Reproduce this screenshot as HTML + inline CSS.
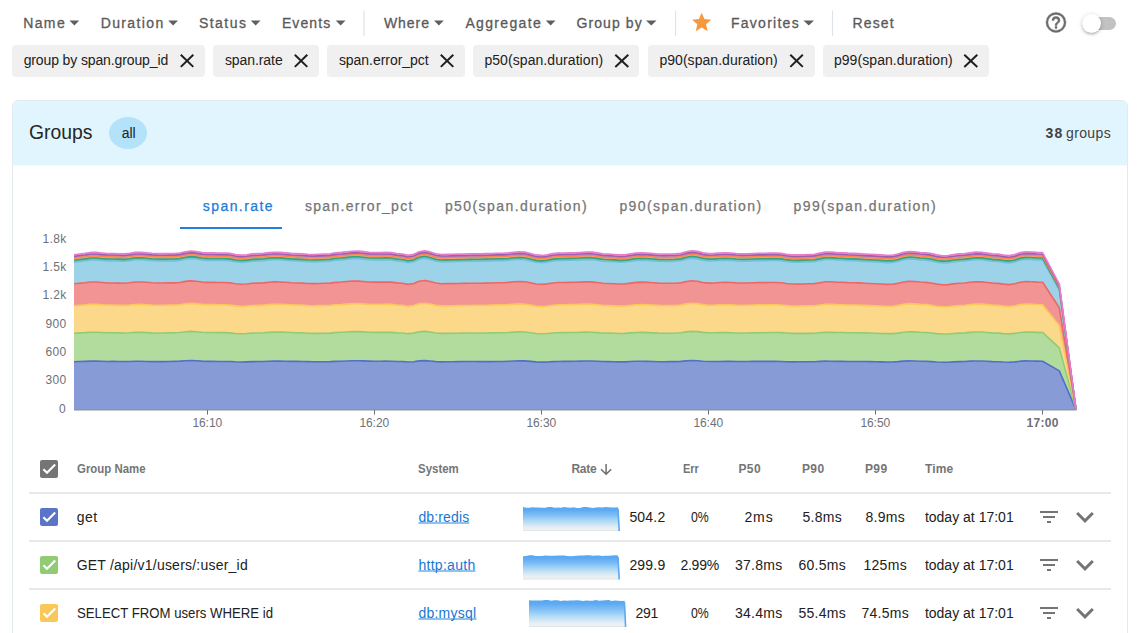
<!DOCTYPE html>
<html lang="en">
<head>
<meta charset="utf-8">
<title>Groups</title>
<style>
html,body{margin:0;padding:0;background:#fff;}
body{width:1140px;height:633px;position:relative;overflow:hidden;font-family:"Liberation Sans", sans-serif;}
span{position:absolute;white-space:pre;font-family:"Liberation Sans", sans-serif;}
.chip{position:absolute;top:44.5px;height:32px;background:#f0f0f0;border-radius:4px;}
.card{position:absolute;left:12px;top:100px;width:1114px;height:560px;border:1px solid #e3eaee;border-radius:6px;background:#fff;overflow:hidden;}
.card .hd{position:absolute;left:0;top:0;right:0;height:64px;background:#e1f5fe;box-shadow:0 1px 0 #f2fbff;}
.pill{position:absolute;left:108.9px;top:117.1px;width:38.3px;height:32px;border-radius:50%/50%;background:#b4e2fa;}
.track{position:absolute;left:1082px;top:17px;width:34px;height:13px;border-radius:7px;background:#c2c2c2;}
.thumb{position:absolute;left:1081.5px;top:14px;width:19px;height:19px;border-radius:50%;background:#fff;
  box-shadow:0 2px 3px -1px rgba(0,0,0,.28),0 1px 4px 0 rgba(0,0,0,.12),0 0 6px 0 rgba(0,0,0,.06);}
.ul{position:absolute;left:180px;top:226.6px;width:102px;height:2.4px;background:#2180da;}
.hl{position:absolute;left:29px;width:1081.5px;height:1px;background:#e3e3e3;}
svg{position:absolute;left:0;top:0;}
</style>
</head>
<body>
<div class="track"></div><div class="thumb"></div>
<div class="chip" style="left:12px;width:193px"></div><div class="chip" style="left:213px;width:106px"></div><div class="chip" style="left:327px;width:138px"></div><div class="chip" style="left:473px;width:166px"></div><div class="chip" style="left:647.5px;width:167.5px"></div><div class="chip" style="left:822.5px;width:166.5px"></div>
<div class="card"><div class="hd"></div></div>
<div class="pill"></div>
<div class="ul"></div>
<div class="hl" style="top:491.8px;height:2px;background:#e9e9e9"></div>
<div class="hl" style="top:540.1px;height:1.6px;background:#e8e8e8"></div>
<div class="hl" style="top:588.1px;height:1.6px;background:#e8e8e8"></div>
<svg width="1140" height="633" viewBox="0 0 1140 633">
<defs><linearGradient id="sg1" x1="0" y1="0" x2="0" y2="1"><stop offset="0" stop-color="#56a7f2"/><stop offset="0.13" stop-color="#5caaf2"/><stop offset="0.35" stop-color="#80bff5"/><stop offset="0.55" stop-color="#a8d6f7"/><stop offset="0.7" stop-color="#c8e3f5"/><stop offset="0.86" stop-color="#e8eef2"/><stop offset="1" stop-color="#f3f3f3"/></linearGradient><linearGradient id="sg2" x1="0" y1="0" x2="0" y2="1"><stop offset="0" stop-color="#56a7f2"/><stop offset="0.13" stop-color="#5caaf2"/><stop offset="0.35" stop-color="#80bff5"/><stop offset="0.55" stop-color="#a8d6f7"/><stop offset="0.7" stop-color="#c8e3f5"/><stop offset="0.86" stop-color="#e8eef2"/><stop offset="1" stop-color="#f3f3f3"/></linearGradient><linearGradient id="sg3" x1="0" y1="0" x2="0" y2="1"><stop offset="0" stop-color="#56a7f2"/><stop offset="0.13" stop-color="#5caaf2"/><stop offset="0.35" stop-color="#80bff5"/><stop offset="0.55" stop-color="#a8d6f7"/><stop offset="0.7" stop-color="#c8e3f5"/><stop offset="0.86" stop-color="#e8eef2"/><stop offset="1" stop-color="#f3f3f3"/></linearGradient></defs>
<path d="M74,409.9 H1076.5" stroke="#6e7079" stroke-width="1" fill="none"/>
<path d="M207.5,410 V414.6" stroke="#6e7079" stroke-width="1" fill="none"/>
<path d="M374.5,410 V414.6" stroke="#6e7079" stroke-width="1" fill="none"/>
<path d="M541.5,410 V414.6" stroke="#6e7079" stroke-width="1" fill="none"/>
<path d="M708.5,410 V414.6" stroke="#6e7079" stroke-width="1" fill="none"/>
<path d="M875.5,410 V414.6" stroke="#6e7079" stroke-width="1" fill="none"/>
<path d="M1042.5,410 V414.6" stroke="#6e7079" stroke-width="1" fill="none"/>
<path d="M74.0,361.82 L79.6,361.55 L85.1,361.39 L90.7,361.11 L96.3,361.12 L101.8,361.30 L107.4,361.43 L113.0,361.42 L118.5,361.49 L124.1,361.57 L129.7,361.44 L135.2,361.22 L140.8,361.26 L146.4,361.43 L151.9,361.59 L157.5,361.64 L163.1,361.58 L168.6,361.45 L174.2,361.35 L179.8,361.14 L185.3,360.73 L190.9,360.55 L196.5,360.78 L202.0,361.17 L207.6,361.36 L213.2,361.41 L218.7,361.45 L224.3,361.43 L229.9,361.50 L235.4,361.80 L241.0,361.96 L246.6,361.84 L252.1,361.61 L257.7,361.57 L263.3,361.49 L268.8,361.28 L274.4,361.13 L280.0,361.13 L285.5,361.21 L291.1,361.33 L296.7,361.40 L302.2,361.47 L307.8,361.66 L313.4,361.77 L318.9,361.77 L324.5,361.73 L330.1,361.66 L335.6,361.34 L341.2,361.20 L346.8,360.98 L352.3,360.78 L357.9,360.75 L363.5,360.91 L369.0,361.12 L374.6,361.21 L380.2,361.21 L385.7,361.16 L391.3,361.18 L396.9,361.44 L402.4,361.56 L408.0,361.98 L413.6,361.68 L419.1,360.90 L424.7,360.65 L430.3,361.06 L435.8,361.64 L441.4,361.86 L447.0,361.80 L452.5,361.70 L458.1,361.61 L463.7,361.57 L469.2,361.54 L474.8,361.56 L480.4,361.62 L485.9,361.65 L491.5,361.62 L497.1,361.55 L502.6,361.48 L508.2,361.30 L513.8,361.00 L519.3,360.81 L524.9,360.90 L530.5,361.34 L536.0,361.84 L541.6,362.08 L547.2,361.94 L552.7,361.63 L558.3,361.49 L563.9,361.41 L569.4,361.33 L575.0,361.26 L580.6,361.13 L586.1,361.01 L591.7,361.03 L597.3,361.28 L602.8,361.57 L608.4,361.66 L614.0,361.79 L619.5,361.90 L625.1,361.83 L630.7,361.57 L636.2,361.30 L641.8,361.25 L647.4,361.37 L652.9,361.56 L658.5,361.70 L664.1,361.73 L669.6,361.67 L675.2,361.58 L680.8,361.38 L686.3,360.83 L691.9,360.51 L697.5,360.74 L703.0,361.23 L708.6,361.55 L714.2,361.55 L719.7,361.44 L725.3,361.36 L730.9,361.39 L736.4,361.49 L742.0,361.53 L747.6,361.48 L753.1,361.41 L758.7,361.38 L764.3,361.41 L769.8,361.40 L775.4,361.37 L781.0,361.48 L786.5,361.69 L792.1,361.84 L797.7,361.82 L803.2,361.74 L808.8,361.70 L814.4,361.68 L819.9,361.41 L825.5,361.15 L831.1,361.21 L836.6,361.38 L842.2,361.40 L847.8,361.47 L853.3,361.46 L858.9,361.46 L864.5,361.51 L870.0,361.60 L875.6,361.68 L881.2,361.84 L886.7,361.98 L892.3,362.00 L897.9,361.65 L903.4,361.14 L909.0,360.86 L914.6,360.94 L920.1,361.18 L925.7,361.32 L931.3,361.59 L936.8,362.02 L942.4,362.28 L948.0,362.18 L953.5,361.87 L959.1,361.58 L964.7,361.44 L970.2,361.15 L975.8,360.94 L981.4,361.02 L986.9,361.32 L992.5,361.62 L998.1,361.76 L1003.6,362.05 L1009.2,362.21 L1014.8,361.85 L1020.3,361.17 L1025.9,360.88 L1031.5,360.94 L1037.0,361.09 L1042.6,361.20 L1059.3,370.92 L1076.0,409.60 L1076.0,409.60 L1059.3,409.60 L1042.6,409.60 L1037.0,409.60 L1031.5,409.60 L1025.9,409.60 L1020.3,409.60 L1014.8,409.60 L1009.2,409.60 L1003.6,409.60 L998.1,409.60 L992.5,409.60 L986.9,409.60 L981.4,409.60 L975.8,409.60 L970.2,409.60 L964.7,409.60 L959.1,409.60 L953.5,409.60 L948.0,409.60 L942.4,409.60 L936.8,409.60 L931.3,409.60 L925.7,409.60 L920.1,409.60 L914.6,409.60 L909.0,409.60 L903.4,409.60 L897.9,409.60 L892.3,409.60 L886.7,409.60 L881.2,409.60 L875.6,409.60 L870.0,409.60 L864.5,409.60 L858.9,409.60 L853.3,409.60 L847.8,409.60 L842.2,409.60 L836.6,409.60 L831.1,409.60 L825.5,409.60 L819.9,409.60 L814.4,409.60 L808.8,409.60 L803.2,409.60 L797.7,409.60 L792.1,409.60 L786.5,409.60 L781.0,409.60 L775.4,409.60 L769.8,409.60 L764.3,409.60 L758.7,409.60 L753.1,409.60 L747.6,409.60 L742.0,409.60 L736.4,409.60 L730.9,409.60 L725.3,409.60 L719.7,409.60 L714.2,409.60 L708.6,409.60 L703.0,409.60 L697.5,409.60 L691.9,409.60 L686.3,409.60 L680.8,409.60 L675.2,409.60 L669.6,409.60 L664.1,409.60 L658.5,409.60 L652.9,409.60 L647.4,409.60 L641.8,409.60 L636.2,409.60 L630.7,409.60 L625.1,409.60 L619.5,409.60 L614.0,409.60 L608.4,409.60 L602.8,409.60 L597.3,409.60 L591.7,409.60 L586.1,409.60 L580.6,409.60 L575.0,409.60 L569.4,409.60 L563.9,409.60 L558.3,409.60 L552.7,409.60 L547.2,409.60 L541.6,409.60 L536.0,409.60 L530.5,409.60 L524.9,409.60 L519.3,409.60 L513.8,409.60 L508.2,409.60 L502.6,409.60 L497.1,409.60 L491.5,409.60 L485.9,409.60 L480.4,409.60 L474.8,409.60 L469.2,409.60 L463.7,409.60 L458.1,409.60 L452.5,409.60 L447.0,409.60 L441.4,409.60 L435.8,409.60 L430.3,409.60 L424.7,409.60 L419.1,409.60 L413.6,409.60 L408.0,409.60 L402.4,409.60 L396.9,409.60 L391.3,409.60 L385.7,409.60 L380.2,409.60 L374.6,409.60 L369.0,409.60 L363.5,409.60 L357.9,409.60 L352.3,409.60 L346.8,409.60 L341.2,409.60 L335.6,409.60 L330.1,409.60 L324.5,409.60 L318.9,409.60 L313.4,409.60 L307.8,409.60 L302.2,409.60 L296.7,409.60 L291.1,409.60 L285.5,409.60 L280.0,409.60 L274.4,409.60 L268.8,409.60 L263.3,409.60 L257.7,409.60 L252.1,409.60 L246.6,409.60 L241.0,409.60 L235.4,409.60 L229.9,409.60 L224.3,409.60 L218.7,409.60 L213.2,409.60 L207.6,409.60 L202.0,409.60 L196.5,409.60 L190.9,409.60 L185.3,409.60 L179.8,409.60 L174.2,409.60 L168.6,409.60 L163.1,409.60 L157.5,409.60 L151.9,409.60 L146.4,409.60 L140.8,409.60 L135.2,409.60 L129.7,409.60 L124.1,409.60 L118.5,409.60 L113.0,409.60 L107.4,409.60 L101.8,409.60 L96.3,409.60 L90.7,409.60 L85.1,409.60 L79.6,409.60 L74.0,409.60 Z" fill="#5470c6" fill-opacity="0.7"/>
<path d="M74.0,333.31 L79.6,332.90 L85.1,332.65 L90.7,332.22 L96.3,332.26 L101.8,332.57 L107.4,332.82 L113.0,332.81 L118.5,332.92 L124.1,333.01 L129.7,332.76 L135.2,332.34 L140.8,332.35 L146.4,332.59 L151.9,332.87 L157.5,333.00 L163.1,332.97 L168.6,332.86 L174.2,332.76 L179.8,332.45 L185.3,331.77 L190.9,331.41 L196.5,331.68 L202.0,332.21 L207.6,332.44 L213.2,332.51 L218.7,332.62 L224.3,332.67 L229.9,332.88 L235.4,333.44 L241.0,333.76 L246.6,333.57 L252.1,333.16 L257.7,333.00 L263.3,332.80 L268.8,332.39 L274.4,332.11 L280.0,332.11 L285.5,332.29 L291.1,332.55 L296.7,332.73 L302.2,332.89 L307.8,333.20 L313.4,333.37 L318.9,333.35 L324.5,333.24 L330.1,333.10 L335.6,332.57 L341.2,332.32 L346.8,331.97 L352.3,331.65 L357.9,331.60 L363.5,331.86 L369.0,332.20 L374.6,332.37 L380.2,332.40 L385.7,332.36 L391.3,332.42 L396.9,332.85 L402.4,333.03 L408.0,333.67 L413.6,333.14 L419.1,331.83 L424.7,331.37 L430.3,331.99 L435.8,332.93 L441.4,333.34 L447.0,333.33 L452.5,333.27 L458.1,333.19 L463.7,333.13 L469.2,333.07 L474.8,333.01 L480.4,333.01 L485.9,332.97 L491.5,332.86 L497.1,332.74 L502.6,332.68 L508.2,332.47 L513.8,332.10 L519.3,331.87 L524.9,332.07 L530.5,332.77 L536.0,333.51 L541.6,333.81 L547.2,333.50 L552.7,332.94 L558.3,332.69 L563.9,332.58 L569.4,332.49 L575.0,332.44 L580.6,332.28 L586.1,332.14 L591.7,332.19 L597.3,332.58 L602.8,333.02 L608.4,333.13 L614.0,333.31 L619.5,333.47 L625.1,333.34 L630.7,332.91 L636.2,332.48 L641.8,332.39 L647.4,332.59 L652.9,332.89 L658.5,333.15 L664.1,333.23 L669.6,333.18 L675.2,333.06 L680.8,332.76 L686.3,331.88 L691.9,331.34 L697.5,331.63 L703.0,332.35 L708.6,332.79 L714.2,332.77 L719.7,332.61 L725.3,332.55 L730.9,332.69 L736.4,332.93 L742.0,333.07 L747.6,333.00 L753.1,332.85 L758.7,332.72 L764.3,332.68 L769.8,332.56 L775.4,332.46 L781.0,332.64 L786.5,333.02 L792.1,333.35 L797.7,333.41 L803.2,333.36 L808.8,333.34 L814.4,333.30 L819.9,332.81 L825.5,332.33 L831.1,332.33 L836.6,332.55 L842.2,332.56 L847.8,332.69 L853.3,332.71 L858.9,332.76 L864.5,332.90 L870.0,333.07 L875.6,333.22 L881.2,333.47 L886.7,333.67 L892.3,333.67 L897.9,333.10 L903.4,332.26 L909.0,331.80 L914.6,331.92 L920.1,332.29 L925.7,332.50 L931.3,332.93 L936.8,333.63 L942.4,334.06 L948.0,333.95 L953.5,333.50 L959.1,333.08 L964.7,332.87 L970.2,332.40 L975.8,332.02 L981.4,332.07 L986.9,332.48 L992.5,332.89 L998.1,333.09 L1003.6,333.59 L1009.2,333.91 L1014.8,333.42 L1020.3,332.44 L1025.9,332.03 L1031.5,332.14 L1037.0,332.34 L1042.6,332.44 L1059.3,347.89 L1076.0,409.60 L1076.0,409.60 L1059.3,370.92 L1042.6,361.20 L1037.0,361.09 L1031.5,360.94 L1025.9,360.88 L1020.3,361.17 L1014.8,361.85 L1009.2,362.21 L1003.6,362.05 L998.1,361.76 L992.5,361.62 L986.9,361.32 L981.4,361.02 L975.8,360.94 L970.2,361.15 L964.7,361.44 L959.1,361.58 L953.5,361.87 L948.0,362.18 L942.4,362.28 L936.8,362.02 L931.3,361.59 L925.7,361.32 L920.1,361.18 L914.6,360.94 L909.0,360.86 L903.4,361.14 L897.9,361.65 L892.3,362.00 L886.7,361.98 L881.2,361.84 L875.6,361.68 L870.0,361.60 L864.5,361.51 L858.9,361.46 L853.3,361.46 L847.8,361.47 L842.2,361.40 L836.6,361.38 L831.1,361.21 L825.5,361.15 L819.9,361.41 L814.4,361.68 L808.8,361.70 L803.2,361.74 L797.7,361.82 L792.1,361.84 L786.5,361.69 L781.0,361.48 L775.4,361.37 L769.8,361.40 L764.3,361.41 L758.7,361.38 L753.1,361.41 L747.6,361.48 L742.0,361.53 L736.4,361.49 L730.9,361.39 L725.3,361.36 L719.7,361.44 L714.2,361.55 L708.6,361.55 L703.0,361.23 L697.5,360.74 L691.9,360.51 L686.3,360.83 L680.8,361.38 L675.2,361.58 L669.6,361.67 L664.1,361.73 L658.5,361.70 L652.9,361.56 L647.4,361.37 L641.8,361.25 L636.2,361.30 L630.7,361.57 L625.1,361.83 L619.5,361.90 L614.0,361.79 L608.4,361.66 L602.8,361.57 L597.3,361.28 L591.7,361.03 L586.1,361.01 L580.6,361.13 L575.0,361.26 L569.4,361.33 L563.9,361.41 L558.3,361.49 L552.7,361.63 L547.2,361.94 L541.6,362.08 L536.0,361.84 L530.5,361.34 L524.9,360.90 L519.3,360.81 L513.8,361.00 L508.2,361.30 L502.6,361.48 L497.1,361.55 L491.5,361.62 L485.9,361.65 L480.4,361.62 L474.8,361.56 L469.2,361.54 L463.7,361.57 L458.1,361.61 L452.5,361.70 L447.0,361.80 L441.4,361.86 L435.8,361.64 L430.3,361.06 L424.7,360.65 L419.1,360.90 L413.6,361.68 L408.0,361.98 L402.4,361.56 L396.9,361.44 L391.3,361.18 L385.7,361.16 L380.2,361.21 L374.6,361.21 L369.0,361.12 L363.5,360.91 L357.9,360.75 L352.3,360.78 L346.8,360.98 L341.2,361.20 L335.6,361.34 L330.1,361.66 L324.5,361.73 L318.9,361.77 L313.4,361.77 L307.8,361.66 L302.2,361.47 L296.7,361.40 L291.1,361.33 L285.5,361.21 L280.0,361.13 L274.4,361.13 L268.8,361.28 L263.3,361.49 L257.7,361.57 L252.1,361.61 L246.6,361.84 L241.0,361.96 L235.4,361.80 L229.9,361.50 L224.3,361.43 L218.7,361.45 L213.2,361.41 L207.6,361.36 L202.0,361.17 L196.5,360.78 L190.9,360.55 L185.3,360.73 L179.8,361.14 L174.2,361.35 L168.6,361.45 L163.1,361.58 L157.5,361.64 L151.9,361.59 L146.4,361.43 L140.8,361.26 L135.2,361.22 L129.7,361.44 L124.1,361.57 L118.5,361.49 L113.0,361.42 L107.4,361.43 L101.8,361.30 L96.3,361.12 L90.7,361.11 L85.1,361.39 L79.6,361.55 L74.0,361.82 Z" fill="#91cc75" fill-opacity="0.7"/>
<path d="M74.0,305.79 L79.6,305.24 L85.1,304.91 L90.7,304.32 L96.3,304.38 L101.8,304.80 L107.4,305.15 L113.0,305.15 L118.5,305.30 L124.1,305.41 L129.7,305.05 L135.2,304.44 L140.8,304.40 L146.4,304.69 L151.9,305.04 L157.5,305.23 L163.1,305.23 L168.6,305.13 L174.2,305.06 L179.8,304.70 L185.3,303.81 L190.9,303.33 L196.5,303.67 L202.0,304.35 L207.6,304.62 L213.2,304.66 L218.7,304.77 L224.3,304.81 L229.9,305.09 L235.4,305.86 L241.0,306.30 L246.6,306.06 L252.1,305.53 L257.7,305.36 L263.3,305.12 L268.8,304.60 L274.4,304.26 L280.0,304.28 L285.5,304.53 L291.1,304.84 L296.7,305.03 L302.2,305.17 L307.8,305.52 L313.4,305.69 L318.9,305.64 L324.5,305.50 L330.1,305.36 L335.6,304.73 L341.2,304.49 L346.8,304.09 L352.3,303.70 L357.9,303.65 L363.5,303.96 L369.0,304.36 L374.6,304.50 L380.2,304.47 L385.7,304.36 L391.3,304.42 L396.9,305.01 L402.4,305.29 L408.0,306.20 L413.6,305.52 L419.1,303.78 L424.7,303.18 L430.3,304.05 L435.8,305.33 L441.4,305.89 L447.0,305.88 L452.5,305.79 L458.1,305.67 L463.7,305.56 L469.2,305.43 L474.8,305.32 L480.4,305.27 L485.9,305.19 L491.5,305.04 L497.1,304.90 L502.6,304.86 L508.2,304.64 L513.8,304.19 L519.3,303.91 L524.9,304.20 L530.5,305.14 L536.0,306.12 L541.6,306.48 L547.2,306.02 L552.7,305.24 L558.3,304.88 L563.9,304.72 L569.4,304.60 L575.0,304.54 L580.6,304.33 L586.1,304.13 L591.7,304.20 L597.3,304.74 L602.8,305.37 L608.4,305.56 L614.0,305.84 L619.5,306.09 L625.1,305.95 L630.7,305.36 L636.2,304.75 L641.8,304.56 L647.4,304.75 L652.9,305.10 L658.5,305.39 L664.1,305.48 L669.6,305.43 L675.2,305.33 L680.8,305.01 L686.3,303.89 L691.9,303.23 L697.5,303.66 L703.0,304.64 L708.6,305.21 L714.2,305.12 L719.7,304.83 L725.3,304.68 L730.9,304.83 L736.4,305.13 L742.0,305.31 L747.6,305.24 L753.1,305.07 L758.7,304.92 L764.3,304.91 L769.8,304.79 L775.4,304.69 L781.0,304.97 L786.5,305.51 L792.1,305.95 L797.7,306.02 L803.2,305.91 L808.8,305.81 L814.4,305.70 L819.9,304.97 L825.5,304.27 L831.1,304.28 L836.6,304.61 L842.2,304.69 L847.8,304.94 L853.3,305.05 L858.9,305.16 L864.5,305.37 L870.0,305.59 L875.6,305.75 L881.2,306.02 L886.7,306.24 L892.3,306.20 L897.9,305.40 L903.4,304.26 L909.0,303.65 L914.6,303.83 L920.1,304.36 L925.7,304.66 L931.3,305.24 L936.8,306.20 L942.4,306.79 L948.0,306.67 L953.5,306.07 L959.1,305.53 L964.7,305.26 L970.2,304.62 L975.8,304.09 L981.4,304.13 L986.9,304.63 L992.5,305.14 L998.1,305.36 L1003.6,306.02 L1009.2,306.47 L1014.8,305.83 L1020.3,304.55 L1025.9,304.06 L1031.5,304.26 L1037.0,304.56 L1042.6,304.71 L1059.3,325.61 L1076.0,409.60 L1076.0,409.60 L1059.3,347.89 L1042.6,332.44 L1037.0,332.34 L1031.5,332.14 L1025.9,332.03 L1020.3,332.44 L1014.8,333.42 L1009.2,333.91 L1003.6,333.59 L998.1,333.09 L992.5,332.89 L986.9,332.48 L981.4,332.07 L975.8,332.02 L970.2,332.40 L964.7,332.87 L959.1,333.08 L953.5,333.50 L948.0,333.95 L942.4,334.06 L936.8,333.63 L931.3,332.93 L925.7,332.50 L920.1,332.29 L914.6,331.92 L909.0,331.80 L903.4,332.26 L897.9,333.10 L892.3,333.67 L886.7,333.67 L881.2,333.47 L875.6,333.22 L870.0,333.07 L864.5,332.90 L858.9,332.76 L853.3,332.71 L847.8,332.69 L842.2,332.56 L836.6,332.55 L831.1,332.33 L825.5,332.33 L819.9,332.81 L814.4,333.30 L808.8,333.34 L803.2,333.36 L797.7,333.41 L792.1,333.35 L786.5,333.02 L781.0,332.64 L775.4,332.46 L769.8,332.56 L764.3,332.68 L758.7,332.72 L753.1,332.85 L747.6,333.00 L742.0,333.07 L736.4,332.93 L730.9,332.69 L725.3,332.55 L719.7,332.61 L714.2,332.77 L708.6,332.79 L703.0,332.35 L697.5,331.63 L691.9,331.34 L686.3,331.88 L680.8,332.76 L675.2,333.06 L669.6,333.18 L664.1,333.23 L658.5,333.15 L652.9,332.89 L647.4,332.59 L641.8,332.39 L636.2,332.48 L630.7,332.91 L625.1,333.34 L619.5,333.47 L614.0,333.31 L608.4,333.13 L602.8,333.02 L597.3,332.58 L591.7,332.19 L586.1,332.14 L580.6,332.28 L575.0,332.44 L569.4,332.49 L563.9,332.58 L558.3,332.69 L552.7,332.94 L547.2,333.50 L541.6,333.81 L536.0,333.51 L530.5,332.77 L524.9,332.07 L519.3,331.87 L513.8,332.10 L508.2,332.47 L502.6,332.68 L497.1,332.74 L491.5,332.86 L485.9,332.97 L480.4,333.01 L474.8,333.01 L469.2,333.07 L463.7,333.13 L458.1,333.19 L452.5,333.27 L447.0,333.33 L441.4,333.34 L435.8,332.93 L430.3,331.99 L424.7,331.37 L419.1,331.83 L413.6,333.14 L408.0,333.67 L402.4,333.03 L396.9,332.85 L391.3,332.42 L385.7,332.36 L380.2,332.40 L374.6,332.37 L369.0,332.20 L363.5,331.86 L357.9,331.60 L352.3,331.65 L346.8,331.97 L341.2,332.32 L335.6,332.57 L330.1,333.10 L324.5,333.24 L318.9,333.35 L313.4,333.37 L307.8,333.20 L302.2,332.89 L296.7,332.73 L291.1,332.55 L285.5,332.29 L280.0,332.11 L274.4,332.11 L268.8,332.39 L263.3,332.80 L257.7,333.00 L252.1,333.16 L246.6,333.57 L241.0,333.76 L235.4,333.44 L229.9,332.88 L224.3,332.67 L218.7,332.62 L213.2,332.51 L207.6,332.44 L202.0,332.21 L196.5,331.68 L190.9,331.41 L185.3,331.77 L179.8,332.45 L174.2,332.76 L168.6,332.86 L163.1,332.97 L157.5,333.00 L151.9,332.87 L146.4,332.59 L140.8,332.35 L135.2,332.34 L129.7,332.76 L124.1,333.01 L118.5,332.92 L113.0,332.81 L107.4,332.82 L101.8,332.57 L96.3,332.26 L90.7,332.22 L85.1,332.65 L79.6,332.90 L74.0,333.31 Z" fill="#fac858" fill-opacity="0.7"/>
<path d="M74.0,283.82 L79.6,283.17 L85.1,282.76 L90.7,282.03 L96.3,282.07 L101.8,282.56 L107.4,282.97 L113.0,282.96 L118.5,283.13 L124.1,283.26 L129.7,282.80 L135.2,282.04 L140.8,281.97 L146.4,282.31 L151.9,282.73 L157.5,282.97 L163.1,282.99 L168.6,282.90 L174.2,282.85 L179.8,282.46 L185.3,281.41 L190.9,280.85 L196.5,281.26 L202.0,282.08 L207.6,282.38 L213.2,282.41 L218.7,282.50 L224.3,282.52 L229.9,282.83 L235.4,283.74 L241.0,284.25 L246.6,283.94 L252.1,283.30 L257.7,283.09 L263.3,282.83 L268.8,282.25 L274.4,281.89 L280.0,281.97 L285.5,282.32 L291.1,282.72 L296.7,282.96 L302.2,283.10 L307.8,283.48 L313.4,283.64 L318.9,283.52 L324.5,283.30 L330.1,283.10 L335.6,282.33 L341.2,282.04 L346.8,281.57 L352.3,281.12 L357.9,281.08 L363.5,281.47 L369.0,281.97 L374.6,282.17 L380.2,282.16 L385.7,282.06 L391.3,282.16 L396.9,282.91 L402.4,283.26 L408.0,284.35 L413.6,283.49 L419.1,281.33 L424.7,280.53 L430.3,281.53 L435.8,283.04 L441.4,283.69 L447.0,283.67 L452.5,283.58 L458.1,283.48 L463.7,283.41 L469.2,283.31 L474.8,283.23 L480.4,283.21 L485.9,283.14 L491.5,282.96 L497.1,282.79 L502.6,282.72 L508.2,282.42 L513.8,281.82 L519.3,281.44 L524.9,281.73 L530.5,282.82 L536.0,283.98 L541.6,284.41 L547.2,283.86 L552.7,282.94 L558.3,282.56 L563.9,282.44 L569.4,282.35 L575.0,282.32 L580.6,282.10 L586.1,281.85 L591.7,281.92 L597.3,282.53 L602.8,283.25 L608.4,283.44 L614.0,283.76 L619.5,284.05 L625.1,283.87 L630.7,283.15 L636.2,282.40 L641.8,282.17 L647.4,282.39 L652.9,282.81 L658.5,283.17 L664.1,283.31 L669.6,283.27 L675.2,283.20 L680.8,282.85 L686.3,281.54 L691.9,280.75 L697.5,281.28 L703.0,282.43 L708.6,283.09 L714.2,282.93 L719.7,282.53 L725.3,282.31 L730.9,282.46 L736.4,282.83 L742.0,283.05 L747.6,282.97 L753.1,282.78 L758.7,282.62 L764.3,282.64 L769.8,282.52 L775.4,282.43 L781.0,282.80 L786.5,283.48 L792.1,284.04 L797.7,284.11 L803.2,283.97 L808.8,283.82 L814.4,283.64 L819.9,282.71 L825.5,281.82 L831.1,281.80 L836.6,282.19 L842.2,282.29 L847.8,282.61 L853.3,282.77 L858.9,282.92 L864.5,283.21 L870.0,283.48 L875.6,283.70 L881.2,284.04 L886.7,284.33 L892.3,284.30 L897.9,283.35 L903.4,281.98 L909.0,281.24 L914.6,281.45 L920.1,282.05 L925.7,282.36 L931.3,283.01 L936.8,284.10 L942.4,284.78 L948.0,284.61 L953.5,283.90 L959.1,283.29 L964.7,283.02 L970.2,282.32 L975.8,281.75 L981.4,281.84 L986.9,282.47 L992.5,283.10 L998.1,283.35 L1003.6,284.12 L1009.2,284.61 L1014.8,283.80 L1020.3,282.19 L1025.9,281.56 L1031.5,281.76 L1037.0,282.11 L1042.6,282.28 L1059.3,307.76 L1076.0,409.60 L1076.0,409.60 L1059.3,325.61 L1042.6,304.71 L1037.0,304.56 L1031.5,304.26 L1025.9,304.06 L1020.3,304.55 L1014.8,305.83 L1009.2,306.47 L1003.6,306.02 L998.1,305.36 L992.5,305.14 L986.9,304.63 L981.4,304.13 L975.8,304.09 L970.2,304.62 L964.7,305.26 L959.1,305.53 L953.5,306.07 L948.0,306.67 L942.4,306.79 L936.8,306.20 L931.3,305.24 L925.7,304.66 L920.1,304.36 L914.6,303.83 L909.0,303.65 L903.4,304.26 L897.9,305.40 L892.3,306.20 L886.7,306.24 L881.2,306.02 L875.6,305.75 L870.0,305.59 L864.5,305.37 L858.9,305.16 L853.3,305.05 L847.8,304.94 L842.2,304.69 L836.6,304.61 L831.1,304.28 L825.5,304.27 L819.9,304.97 L814.4,305.70 L808.8,305.81 L803.2,305.91 L797.7,306.02 L792.1,305.95 L786.5,305.51 L781.0,304.97 L775.4,304.69 L769.8,304.79 L764.3,304.91 L758.7,304.92 L753.1,305.07 L747.6,305.24 L742.0,305.31 L736.4,305.13 L730.9,304.83 L725.3,304.68 L719.7,304.83 L714.2,305.12 L708.6,305.21 L703.0,304.64 L697.5,303.66 L691.9,303.23 L686.3,303.89 L680.8,305.01 L675.2,305.33 L669.6,305.43 L664.1,305.48 L658.5,305.39 L652.9,305.10 L647.4,304.75 L641.8,304.56 L636.2,304.75 L630.7,305.36 L625.1,305.95 L619.5,306.09 L614.0,305.84 L608.4,305.56 L602.8,305.37 L597.3,304.74 L591.7,304.20 L586.1,304.13 L580.6,304.33 L575.0,304.54 L569.4,304.60 L563.9,304.72 L558.3,304.88 L552.7,305.24 L547.2,306.02 L541.6,306.48 L536.0,306.12 L530.5,305.14 L524.9,304.20 L519.3,303.91 L513.8,304.19 L508.2,304.64 L502.6,304.86 L497.1,304.90 L491.5,305.04 L485.9,305.19 L480.4,305.27 L474.8,305.32 L469.2,305.43 L463.7,305.56 L458.1,305.67 L452.5,305.79 L447.0,305.88 L441.4,305.89 L435.8,305.33 L430.3,304.05 L424.7,303.18 L419.1,303.78 L413.6,305.52 L408.0,306.20 L402.4,305.29 L396.9,305.01 L391.3,304.42 L385.7,304.36 L380.2,304.47 L374.6,304.50 L369.0,304.36 L363.5,303.96 L357.9,303.65 L352.3,303.70 L346.8,304.09 L341.2,304.49 L335.6,304.73 L330.1,305.36 L324.5,305.50 L318.9,305.64 L313.4,305.69 L307.8,305.52 L302.2,305.17 L296.7,305.03 L291.1,304.84 L285.5,304.53 L280.0,304.28 L274.4,304.26 L268.8,304.60 L263.3,305.12 L257.7,305.36 L252.1,305.53 L246.6,306.06 L241.0,306.30 L235.4,305.86 L229.9,305.09 L224.3,304.81 L218.7,304.77 L213.2,304.66 L207.6,304.62 L202.0,304.35 L196.5,303.67 L190.9,303.33 L185.3,303.81 L179.8,304.70 L174.2,305.06 L168.6,305.13 L163.1,305.23 L157.5,305.23 L151.9,305.04 L146.4,304.69 L140.8,304.40 L135.2,304.44 L129.7,305.05 L124.1,305.41 L118.5,305.30 L113.0,305.15 L107.4,305.15 L101.8,304.80 L96.3,304.38 L90.7,304.32 L85.1,304.91 L79.6,305.24 L74.0,305.79 Z" fill="#ee6666" fill-opacity="0.7"/>
<path d="M74.0,262.13 L79.6,261.34 L85.1,260.81 L90.7,259.89 L96.3,259.89 L101.8,260.43 L107.4,260.88 L113.0,260.86 L118.5,261.07 L124.1,261.22 L129.7,260.70 L135.2,259.82 L140.8,259.74 L146.4,260.14 L151.9,260.65 L157.5,260.94 L163.1,260.98 L168.6,260.91 L174.2,260.87 L179.8,260.43 L185.3,259.22 L190.9,258.56 L196.5,259.04 L202.0,259.99 L207.6,260.33 L213.2,260.34 L218.7,260.43 L224.3,260.43 L229.9,260.78 L235.4,261.82 L241.0,262.40 L246.6,262.01 L252.1,261.23 L257.7,260.99 L263.3,260.69 L268.8,260.04 L274.4,259.66 L280.0,259.80 L285.5,260.25 L291.1,260.77 L296.7,261.07 L302.2,261.25 L307.8,261.68 L313.4,261.85 L318.9,261.68 L324.5,261.40 L330.1,261.14 L335.6,260.21 L341.2,259.85 L346.8,259.28 L352.3,258.73 L357.9,258.65 L363.5,259.10 L369.0,259.67 L374.6,259.90 L380.2,259.89 L385.7,259.82 L391.3,259.98 L396.9,260.92 L402.4,261.38 L408.0,262.71 L413.6,261.73 L419.1,259.20 L424.7,258.25 L430.3,259.38 L435.8,261.11 L441.4,261.83 L447.0,261.77 L452.5,261.64 L458.1,261.49 L463.7,261.39 L469.2,261.26 L474.8,261.15 L480.4,261.14 L485.9,261.06 L491.5,260.87 L497.1,260.69 L502.6,260.65 L508.2,260.33 L513.8,259.67 L519.3,259.25 L524.9,259.61 L530.5,260.90 L536.0,262.25 L541.6,262.74 L547.2,262.09 L552.7,260.99 L558.3,260.54 L563.9,260.37 L569.4,260.24 L575.0,260.17 L580.6,259.87 L586.1,259.54 L591.7,259.58 L597.3,260.29 L602.8,261.13 L608.4,261.38 L614.0,261.80 L619.5,262.21 L625.1,262.06 L630.7,261.29 L636.2,260.45 L641.8,260.20 L647.4,260.46 L652.9,260.92 L658.5,261.31 L664.1,261.42 L669.6,261.34 L675.2,261.21 L680.8,260.77 L686.3,259.20 L691.9,258.25 L697.5,258.86 L703.0,260.21 L708.6,260.97 L714.2,260.80 L719.7,260.36 L725.3,260.13 L730.9,260.36 L736.4,260.84 L742.0,261.14 L747.6,261.08 L753.1,260.88 L758.7,260.70 L764.3,260.70 L769.8,260.53 L775.4,260.39 L781.0,260.79 L786.5,261.56 L792.1,262.18 L797.7,262.24 L803.2,262.05 L808.8,261.85 L814.4,261.63 L819.9,260.54 L825.5,259.51 L831.1,259.51 L836.6,260.00 L842.2,260.16 L847.8,260.58 L853.3,260.80 L858.9,261.01 L864.5,261.35 L870.0,261.67 L875.6,261.90 L881.2,262.27 L886.7,262.59 L892.3,262.54 L897.9,261.42 L903.4,259.81 L909.0,258.94 L914.6,259.17 L920.1,259.86 L925.7,260.20 L931.3,260.93 L936.8,262.19 L942.4,262.97 L948.0,262.77 L953.5,261.96 L959.1,261.28 L964.7,261.02 L970.2,260.25 L975.8,259.62 L981.4,259.76 L986.9,260.51 L992.5,261.24 L998.1,261.52 L1003.6,262.40 L1009.2,262.95 L1014.8,261.96 L1020.3,260.04 L1025.9,259.27 L1031.5,259.48 L1037.0,259.86 L1042.6,260.04 L1059.3,290.06 L1076.0,409.60 L1076.0,409.60 L1059.3,307.76 L1042.6,282.28 L1037.0,282.11 L1031.5,281.76 L1025.9,281.56 L1020.3,282.19 L1014.8,283.80 L1009.2,284.61 L1003.6,284.12 L998.1,283.35 L992.5,283.10 L986.9,282.47 L981.4,281.84 L975.8,281.75 L970.2,282.32 L964.7,283.02 L959.1,283.29 L953.5,283.90 L948.0,284.61 L942.4,284.78 L936.8,284.10 L931.3,283.01 L925.7,282.36 L920.1,282.05 L914.6,281.45 L909.0,281.24 L903.4,281.98 L897.9,283.35 L892.3,284.30 L886.7,284.33 L881.2,284.04 L875.6,283.70 L870.0,283.48 L864.5,283.21 L858.9,282.92 L853.3,282.77 L847.8,282.61 L842.2,282.29 L836.6,282.19 L831.1,281.80 L825.5,281.82 L819.9,282.71 L814.4,283.64 L808.8,283.82 L803.2,283.97 L797.7,284.11 L792.1,284.04 L786.5,283.48 L781.0,282.80 L775.4,282.43 L769.8,282.52 L764.3,282.64 L758.7,282.62 L753.1,282.78 L747.6,282.97 L742.0,283.05 L736.4,282.83 L730.9,282.46 L725.3,282.31 L719.7,282.53 L714.2,282.93 L708.6,283.09 L703.0,282.43 L697.5,281.28 L691.9,280.75 L686.3,281.54 L680.8,282.85 L675.2,283.20 L669.6,283.27 L664.1,283.31 L658.5,283.17 L652.9,282.81 L647.4,282.39 L641.8,282.17 L636.2,282.40 L630.7,283.15 L625.1,283.87 L619.5,284.05 L614.0,283.76 L608.4,283.44 L602.8,283.25 L597.3,282.53 L591.7,281.92 L586.1,281.85 L580.6,282.10 L575.0,282.32 L569.4,282.35 L563.9,282.44 L558.3,282.56 L552.7,282.94 L547.2,283.86 L541.6,284.41 L536.0,283.98 L530.5,282.82 L524.9,281.73 L519.3,281.44 L513.8,281.82 L508.2,282.42 L502.6,282.72 L497.1,282.79 L491.5,282.96 L485.9,283.14 L480.4,283.21 L474.8,283.23 L469.2,283.31 L463.7,283.41 L458.1,283.48 L452.5,283.58 L447.0,283.67 L441.4,283.69 L435.8,283.04 L430.3,281.53 L424.7,280.53 L419.1,281.33 L413.6,283.49 L408.0,284.35 L402.4,283.26 L396.9,282.91 L391.3,282.16 L385.7,282.06 L380.2,282.16 L374.6,282.17 L369.0,281.97 L363.5,281.47 L357.9,281.08 L352.3,281.12 L346.8,281.57 L341.2,282.04 L335.6,282.33 L330.1,283.10 L324.5,283.30 L318.9,283.52 L313.4,283.64 L307.8,283.48 L302.2,283.10 L296.7,282.96 L291.1,282.72 L285.5,282.32 L280.0,281.97 L274.4,281.89 L268.8,282.25 L263.3,282.83 L257.7,283.09 L252.1,283.30 L246.6,283.94 L241.0,284.25 L235.4,283.74 L229.9,282.83 L224.3,282.52 L218.7,282.50 L213.2,282.41 L207.6,282.38 L202.0,282.08 L196.5,281.26 L190.9,280.85 L185.3,281.41 L179.8,282.46 L174.2,282.85 L168.6,282.90 L163.1,282.99 L157.5,282.97 L151.9,282.73 L146.4,282.31 L140.8,281.97 L135.2,282.04 L129.7,282.80 L124.1,283.26 L118.5,283.13 L113.0,282.96 L107.4,282.97 L101.8,282.56 L96.3,282.07 L90.7,282.03 L85.1,282.76 L79.6,283.17 L74.0,283.82 Z" fill="#73c0de" fill-opacity="0.7"/>
<path d="M74.0,260.25 L79.6,259.44 L85.1,258.90 L90.7,257.98 L96.3,257.97 L101.8,258.52 L107.4,258.97 L113.0,258.96 L118.5,259.17 L124.1,259.33 L129.7,258.80 L135.2,257.91 L140.8,257.83 L146.4,258.24 L151.9,258.75 L157.5,259.04 L163.1,259.08 L168.6,259.01 L174.2,258.97 L179.8,258.52 L185.3,257.30 L190.9,256.63 L196.5,257.12 L202.0,258.07 L207.6,258.42 L213.2,258.44 L218.7,258.53 L224.3,258.53 L229.9,258.88 L235.4,259.93 L241.0,260.52 L246.6,260.13 L252.1,259.34 L257.7,259.09 L263.3,258.79 L268.8,258.13 L274.4,257.74 L280.0,257.88 L285.5,258.34 L291.1,258.87 L296.7,259.17 L302.2,259.35 L307.8,259.79 L313.4,259.96 L318.9,259.79 L324.5,259.50 L330.1,259.25 L335.6,258.30 L341.2,257.94 L346.8,257.37 L352.3,256.81 L357.9,256.73 L363.5,257.18 L369.0,257.75 L374.6,257.99 L380.2,257.98 L385.7,257.90 L391.3,258.07 L396.9,259.02 L402.4,259.49 L408.0,260.83 L413.6,259.84 L419.1,257.28 L424.7,256.32 L430.3,257.46 L435.8,259.21 L441.4,259.94 L447.0,259.89 L452.5,259.75 L458.1,259.60 L463.7,259.50 L469.2,259.37 L474.8,259.26 L480.4,259.24 L485.9,259.16 L491.5,258.97 L497.1,258.79 L502.6,258.75 L508.2,258.43 L513.8,257.75 L519.3,257.33 L524.9,257.70 L530.5,259.00 L536.0,260.37 L541.6,260.86 L547.2,260.20 L552.7,259.10 L558.3,258.64 L563.9,258.47 L569.4,258.33 L575.0,258.27 L580.6,257.96 L586.1,257.63 L591.7,257.67 L597.3,258.38 L602.8,259.23 L608.4,259.49 L614.0,259.91 L619.5,260.33 L625.1,260.18 L630.7,259.40 L636.2,258.55 L641.8,258.30 L647.4,258.56 L652.9,259.03 L658.5,259.42 L664.1,259.53 L669.6,259.45 L675.2,259.32 L680.8,258.87 L686.3,257.28 L691.9,256.32 L697.5,256.93 L703.0,258.30 L708.6,259.08 L714.2,258.90 L719.7,258.45 L725.3,258.22 L730.9,258.45 L736.4,258.94 L742.0,259.25 L747.6,259.19 L753.1,258.98 L758.7,258.80 L764.3,258.80 L769.8,258.63 L775.4,258.49 L781.0,258.89 L786.5,259.67 L792.1,260.29 L797.7,260.36 L803.2,260.16 L808.8,259.97 L814.4,259.74 L819.9,258.64 L825.5,257.60 L831.1,257.60 L836.6,258.10 L842.2,258.26 L847.8,258.68 L853.3,258.91 L858.9,259.11 L864.5,259.46 L870.0,259.77 L875.6,260.01 L881.2,260.39 L886.7,260.71 L892.3,260.66 L897.9,259.52 L903.4,257.90 L909.0,257.02 L914.6,257.26 L920.1,257.96 L925.7,258.30 L931.3,259.04 L936.8,260.31 L942.4,261.10 L948.0,260.90 L953.5,260.08 L959.1,259.38 L964.7,259.12 L970.2,258.34 L975.8,257.70 L981.4,257.84 L986.9,258.61 L992.5,259.35 L998.1,259.63 L1003.6,260.52 L1009.2,261.08 L1014.8,260.07 L1020.3,258.14 L1025.9,257.36 L1031.5,257.56 L1037.0,257.95 L1042.6,258.13 L1059.3,288.54 L1076.0,409.60 L1076.0,409.60 L1059.3,290.06 L1042.6,260.04 L1037.0,259.86 L1031.5,259.48 L1025.9,259.27 L1020.3,260.04 L1014.8,261.96 L1009.2,262.95 L1003.6,262.40 L998.1,261.52 L992.5,261.24 L986.9,260.51 L981.4,259.76 L975.8,259.62 L970.2,260.25 L964.7,261.02 L959.1,261.28 L953.5,261.96 L948.0,262.77 L942.4,262.97 L936.8,262.19 L931.3,260.93 L925.7,260.20 L920.1,259.86 L914.6,259.17 L909.0,258.94 L903.4,259.81 L897.9,261.42 L892.3,262.54 L886.7,262.59 L881.2,262.27 L875.6,261.90 L870.0,261.67 L864.5,261.35 L858.9,261.01 L853.3,260.80 L847.8,260.58 L842.2,260.16 L836.6,260.00 L831.1,259.51 L825.5,259.51 L819.9,260.54 L814.4,261.63 L808.8,261.85 L803.2,262.05 L797.7,262.24 L792.1,262.18 L786.5,261.56 L781.0,260.79 L775.4,260.39 L769.8,260.53 L764.3,260.70 L758.7,260.70 L753.1,260.88 L747.6,261.08 L742.0,261.14 L736.4,260.84 L730.9,260.36 L725.3,260.13 L719.7,260.36 L714.2,260.80 L708.6,260.97 L703.0,260.21 L697.5,258.86 L691.9,258.25 L686.3,259.20 L680.8,260.77 L675.2,261.21 L669.6,261.34 L664.1,261.42 L658.5,261.31 L652.9,260.92 L647.4,260.46 L641.8,260.20 L636.2,260.45 L630.7,261.29 L625.1,262.06 L619.5,262.21 L614.0,261.80 L608.4,261.38 L602.8,261.13 L597.3,260.29 L591.7,259.58 L586.1,259.54 L580.6,259.87 L575.0,260.17 L569.4,260.24 L563.9,260.37 L558.3,260.54 L552.7,260.99 L547.2,262.09 L541.6,262.74 L536.0,262.25 L530.5,260.90 L524.9,259.61 L519.3,259.25 L513.8,259.67 L508.2,260.33 L502.6,260.65 L497.1,260.69 L491.5,260.87 L485.9,261.06 L480.4,261.14 L474.8,261.15 L469.2,261.26 L463.7,261.39 L458.1,261.49 L452.5,261.64 L447.0,261.77 L441.4,261.83 L435.8,261.11 L430.3,259.38 L424.7,258.25 L419.1,259.20 L413.6,261.73 L408.0,262.71 L402.4,261.38 L396.9,260.92 L391.3,259.98 L385.7,259.82 L380.2,259.89 L374.6,259.90 L369.0,259.67 L363.5,259.10 L357.9,258.65 L352.3,258.73 L346.8,259.28 L341.2,259.85 L335.6,260.21 L330.1,261.14 L324.5,261.40 L318.9,261.68 L313.4,261.85 L307.8,261.68 L302.2,261.25 L296.7,261.07 L291.1,260.77 L285.5,260.25 L280.0,259.80 L274.4,259.66 L268.8,260.04 L263.3,260.69 L257.7,260.99 L252.1,261.23 L246.6,262.01 L241.0,262.40 L235.4,261.82 L229.9,260.78 L224.3,260.43 L218.7,260.43 L213.2,260.34 L207.6,260.33 L202.0,259.99 L196.5,259.04 L190.9,258.56 L185.3,259.22 L179.8,260.43 L174.2,260.87 L168.6,260.91 L163.1,260.98 L157.5,260.94 L151.9,260.65 L146.4,260.14 L140.8,259.74 L135.2,259.82 L129.7,260.70 L124.1,261.22 L118.5,261.07 L113.0,260.86 L107.4,260.88 L101.8,260.43 L96.3,259.89 L90.7,259.89 L85.1,260.81 L79.6,261.34 L74.0,262.13 Z" fill="#3ba272" fill-opacity="0.7"/>
<path d="M74.0,258.18 L79.6,257.36 L85.1,256.81 L90.7,255.87 L96.3,255.86 L101.8,256.42 L107.4,256.88 L113.0,256.86 L118.5,257.09 L124.1,257.25 L129.7,256.72 L135.2,255.82 L140.8,255.74 L146.4,256.15 L151.9,256.66 L157.5,256.96 L163.1,257.00 L168.6,256.92 L174.2,256.88 L179.8,256.43 L185.3,255.18 L190.9,254.50 L196.5,255.00 L202.0,255.97 L207.6,256.32 L213.2,256.34 L218.7,256.44 L224.3,256.44 L229.9,256.80 L235.4,257.86 L241.0,258.46 L246.6,258.06 L252.1,257.26 L257.7,257.01 L263.3,256.70 L268.8,256.03 L274.4,255.63 L280.0,255.78 L285.5,256.24 L291.1,256.78 L296.7,257.08 L302.2,257.27 L307.8,257.71 L313.4,257.89 L318.9,257.71 L324.5,257.42 L330.1,257.16 L335.6,256.21 L341.2,255.84 L346.8,255.26 L352.3,254.70 L357.9,254.61 L363.5,255.07 L369.0,255.65 L374.6,255.88 L380.2,255.88 L385.7,255.79 L391.3,255.97 L396.9,256.93 L402.4,257.41 L408.0,258.77 L413.6,257.77 L419.1,255.17 L424.7,254.19 L430.3,255.35 L435.8,257.13 L441.4,257.87 L447.0,257.81 L452.5,257.67 L458.1,257.52 L463.7,257.42 L469.2,257.29 L474.8,257.18 L480.4,257.16 L485.9,257.08 L491.5,256.89 L497.1,256.70 L502.6,256.65 L508.2,256.33 L513.8,255.65 L519.3,255.21 L524.9,255.59 L530.5,256.91 L536.0,258.29 L541.6,258.80 L547.2,258.13 L552.7,257.01 L558.3,256.54 L563.9,256.38 L569.4,256.24 L575.0,256.18 L580.6,255.87 L586.1,255.52 L591.7,255.56 L597.3,256.28 L602.8,257.14 L608.4,257.40 L614.0,257.83 L619.5,258.26 L625.1,258.11 L630.7,257.32 L636.2,256.46 L641.8,256.20 L647.4,256.47 L652.9,256.94 L658.5,257.34 L664.1,257.45 L669.6,257.36 L675.2,257.23 L680.8,256.78 L686.3,255.17 L691.9,254.19 L697.5,254.82 L703.0,256.20 L708.6,256.99 L714.2,256.81 L719.7,256.36 L725.3,256.13 L730.9,256.36 L736.4,256.85 L742.0,257.17 L747.6,257.11 L753.1,256.90 L758.7,256.71 L764.3,256.71 L769.8,256.53 L775.4,256.39 L781.0,256.80 L786.5,257.59 L792.1,258.22 L797.7,258.29 L803.2,258.09 L808.8,257.89 L814.4,257.67 L819.9,256.55 L825.5,255.49 L831.1,255.49 L836.6,256.00 L842.2,256.16 L847.8,256.59 L853.3,256.82 L858.9,257.03 L864.5,257.38 L870.0,257.70 L875.6,257.93 L881.2,258.31 L886.7,258.64 L892.3,258.59 L897.9,257.44 L903.4,255.80 L909.0,254.91 L914.6,255.15 L920.1,255.86 L925.7,256.21 L931.3,256.95 L936.8,258.25 L942.4,259.05 L948.0,258.84 L953.5,258.00 L959.1,257.30 L964.7,257.03 L970.2,256.24 L975.8,255.60 L981.4,255.74 L986.9,256.52 L992.5,257.26 L998.1,257.55 L1003.6,258.45 L1009.2,259.02 L1014.8,258.00 L1020.3,256.04 L1025.9,255.25 L1031.5,255.46 L1037.0,255.85 L1042.6,256.03 L1059.3,286.86 L1076.0,409.60 L1076.0,409.60 L1059.3,288.54 L1042.6,258.13 L1037.0,257.95 L1031.5,257.56 L1025.9,257.36 L1020.3,258.14 L1014.8,260.07 L1009.2,261.08 L1003.6,260.52 L998.1,259.63 L992.5,259.35 L986.9,258.61 L981.4,257.84 L975.8,257.70 L970.2,258.34 L964.7,259.12 L959.1,259.38 L953.5,260.08 L948.0,260.90 L942.4,261.10 L936.8,260.31 L931.3,259.04 L925.7,258.30 L920.1,257.96 L914.6,257.26 L909.0,257.02 L903.4,257.90 L897.9,259.52 L892.3,260.66 L886.7,260.71 L881.2,260.39 L875.6,260.01 L870.0,259.77 L864.5,259.46 L858.9,259.11 L853.3,258.91 L847.8,258.68 L842.2,258.26 L836.6,258.10 L831.1,257.60 L825.5,257.60 L819.9,258.64 L814.4,259.74 L808.8,259.97 L803.2,260.16 L797.7,260.36 L792.1,260.29 L786.5,259.67 L781.0,258.89 L775.4,258.49 L769.8,258.63 L764.3,258.80 L758.7,258.80 L753.1,258.98 L747.6,259.19 L742.0,259.25 L736.4,258.94 L730.9,258.45 L725.3,258.22 L719.7,258.45 L714.2,258.90 L708.6,259.08 L703.0,258.30 L697.5,256.93 L691.9,256.32 L686.3,257.28 L680.8,258.87 L675.2,259.32 L669.6,259.45 L664.1,259.53 L658.5,259.42 L652.9,259.03 L647.4,258.56 L641.8,258.30 L636.2,258.55 L630.7,259.40 L625.1,260.18 L619.5,260.33 L614.0,259.91 L608.4,259.49 L602.8,259.23 L597.3,258.38 L591.7,257.67 L586.1,257.63 L580.6,257.96 L575.0,258.27 L569.4,258.33 L563.9,258.47 L558.3,258.64 L552.7,259.10 L547.2,260.20 L541.6,260.86 L536.0,260.37 L530.5,259.00 L524.9,257.70 L519.3,257.33 L513.8,257.75 L508.2,258.43 L502.6,258.75 L497.1,258.79 L491.5,258.97 L485.9,259.16 L480.4,259.24 L474.8,259.26 L469.2,259.37 L463.7,259.50 L458.1,259.60 L452.5,259.75 L447.0,259.89 L441.4,259.94 L435.8,259.21 L430.3,257.46 L424.7,256.32 L419.1,257.28 L413.6,259.84 L408.0,260.83 L402.4,259.49 L396.9,259.02 L391.3,258.07 L385.7,257.90 L380.2,257.98 L374.6,257.99 L369.0,257.75 L363.5,257.18 L357.9,256.73 L352.3,256.81 L346.8,257.37 L341.2,257.94 L335.6,258.30 L330.1,259.25 L324.5,259.50 L318.9,259.79 L313.4,259.96 L307.8,259.79 L302.2,259.35 L296.7,259.17 L291.1,258.87 L285.5,258.34 L280.0,257.88 L274.4,257.74 L268.8,258.13 L263.3,258.79 L257.7,259.09 L252.1,259.34 L246.6,260.13 L241.0,260.52 L235.4,259.93 L229.9,258.88 L224.3,258.53 L218.7,258.53 L213.2,258.44 L207.6,258.42 L202.0,258.07 L196.5,257.12 L190.9,256.63 L185.3,257.30 L179.8,258.52 L174.2,258.97 L168.6,259.01 L163.1,259.08 L157.5,259.04 L151.9,258.75 L146.4,258.24 L140.8,257.83 L135.2,257.91 L129.7,258.80 L124.1,259.33 L118.5,259.17 L113.0,258.96 L107.4,258.97 L101.8,258.52 L96.3,257.97 L90.7,257.98 L85.1,258.90 L79.6,259.44 L74.0,260.25 Z" fill="#fc8452" fill-opacity="0.7"/>
<path d="M74.0,256.39 L79.6,255.56 L85.1,255.01 L90.7,254.05 L96.3,254.04 L101.8,254.60 L107.4,255.07 L113.0,255.06 L118.5,255.29 L124.1,255.46 L129.7,254.91 L135.2,254.01 L140.8,253.93 L146.4,254.34 L151.9,254.86 L157.5,255.16 L163.1,255.19 L168.6,255.11 L174.2,255.08 L179.8,254.61 L185.3,253.36 L190.9,252.67 L196.5,253.17 L202.0,254.15 L207.6,254.51 L213.2,254.53 L218.7,254.63 L224.3,254.63 L229.9,255.00 L235.4,256.08 L241.0,256.68 L246.6,256.27 L252.1,255.46 L257.7,255.21 L263.3,254.89 L268.8,254.21 L274.4,253.81 L280.0,253.96 L285.5,254.43 L291.1,254.97 L296.7,255.28 L302.2,255.47 L307.8,255.92 L313.4,256.09 L318.9,255.91 L324.5,255.62 L330.1,255.36 L335.6,254.40 L341.2,254.03 L346.8,253.44 L352.3,252.87 L357.9,252.79 L363.5,253.24 L369.0,253.83 L374.6,254.07 L380.2,254.06 L385.7,253.97 L391.3,254.15 L396.9,255.12 L402.4,255.61 L408.0,256.99 L413.6,255.98 L419.1,253.35 L424.7,252.36 L430.3,253.53 L435.8,255.32 L441.4,256.07 L447.0,256.01 L452.5,255.87 L458.1,255.73 L463.7,255.62 L469.2,255.49 L474.8,255.38 L480.4,255.36 L485.9,255.28 L491.5,255.08 L497.1,254.90 L502.6,254.85 L508.2,254.52 L513.8,253.83 L519.3,253.39 L524.9,253.77 L530.5,255.10 L536.0,256.51 L541.6,257.02 L547.2,256.34 L552.7,255.21 L558.3,254.74 L563.9,254.57 L569.4,254.43 L575.0,254.37 L580.6,254.05 L586.1,253.71 L591.7,253.74 L597.3,254.47 L602.8,255.34 L608.4,255.60 L614.0,256.04 L619.5,256.47 L625.1,256.32 L630.7,255.52 L636.2,254.65 L641.8,254.40 L647.4,254.66 L652.9,255.14 L658.5,255.54 L664.1,255.65 L669.6,255.56 L675.2,255.43 L680.8,254.97 L686.3,253.34 L691.9,252.36 L697.5,252.99 L703.0,254.39 L708.6,255.19 L714.2,255.00 L719.7,254.55 L725.3,254.31 L730.9,254.55 L736.4,255.05 L742.0,255.37 L747.6,255.31 L753.1,255.10 L758.7,254.91 L764.3,254.90 L769.8,254.72 L775.4,254.58 L781.0,254.99 L786.5,255.79 L792.1,256.43 L797.7,256.50 L803.2,256.30 L808.8,256.10 L814.4,255.88 L819.9,254.74 L825.5,253.67 L831.1,253.68 L836.6,254.19 L842.2,254.35 L847.8,254.79 L853.3,255.02 L858.9,255.23 L864.5,255.58 L870.0,255.90 L875.6,256.13 L881.2,256.52 L886.7,256.85 L892.3,256.80 L897.9,255.64 L903.4,253.98 L909.0,253.08 L914.6,253.33 L920.1,254.05 L925.7,254.40 L931.3,255.16 L936.8,256.46 L942.4,257.27 L948.0,257.06 L953.5,256.21 L959.1,255.50 L964.7,255.23 L970.2,254.43 L975.8,253.78 L981.4,253.92 L986.9,254.71 L992.5,255.46 L998.1,255.76 L1003.6,256.66 L1009.2,257.24 L1014.8,256.21 L1020.3,254.22 L1025.9,253.42 L1031.5,253.64 L1037.0,254.03 L1042.6,254.22 L1059.3,285.41 L1076.0,409.60 L1076.0,409.60 L1059.3,286.86 L1042.6,256.03 L1037.0,255.85 L1031.5,255.46 L1025.9,255.25 L1020.3,256.04 L1014.8,258.00 L1009.2,259.02 L1003.6,258.45 L998.1,257.55 L992.5,257.26 L986.9,256.52 L981.4,255.74 L975.8,255.60 L970.2,256.24 L964.7,257.03 L959.1,257.30 L953.5,258.00 L948.0,258.84 L942.4,259.05 L936.8,258.25 L931.3,256.95 L925.7,256.21 L920.1,255.86 L914.6,255.15 L909.0,254.91 L903.4,255.80 L897.9,257.44 L892.3,258.59 L886.7,258.64 L881.2,258.31 L875.6,257.93 L870.0,257.70 L864.5,257.38 L858.9,257.03 L853.3,256.82 L847.8,256.59 L842.2,256.16 L836.6,256.00 L831.1,255.49 L825.5,255.49 L819.9,256.55 L814.4,257.67 L808.8,257.89 L803.2,258.09 L797.7,258.29 L792.1,258.22 L786.5,257.59 L781.0,256.80 L775.4,256.39 L769.8,256.53 L764.3,256.71 L758.7,256.71 L753.1,256.90 L747.6,257.11 L742.0,257.17 L736.4,256.85 L730.9,256.36 L725.3,256.13 L719.7,256.36 L714.2,256.81 L708.6,256.99 L703.0,256.20 L697.5,254.82 L691.9,254.19 L686.3,255.17 L680.8,256.78 L675.2,257.23 L669.6,257.36 L664.1,257.45 L658.5,257.34 L652.9,256.94 L647.4,256.47 L641.8,256.20 L636.2,256.46 L630.7,257.32 L625.1,258.11 L619.5,258.26 L614.0,257.83 L608.4,257.40 L602.8,257.14 L597.3,256.28 L591.7,255.56 L586.1,255.52 L580.6,255.87 L575.0,256.18 L569.4,256.24 L563.9,256.38 L558.3,256.54 L552.7,257.01 L547.2,258.13 L541.6,258.80 L536.0,258.29 L530.5,256.91 L524.9,255.59 L519.3,255.21 L513.8,255.65 L508.2,256.33 L502.6,256.65 L497.1,256.70 L491.5,256.89 L485.9,257.08 L480.4,257.16 L474.8,257.18 L469.2,257.29 L463.7,257.42 L458.1,257.52 L452.5,257.67 L447.0,257.81 L441.4,257.87 L435.8,257.13 L430.3,255.35 L424.7,254.19 L419.1,255.17 L413.6,257.77 L408.0,258.77 L402.4,257.41 L396.9,256.93 L391.3,255.97 L385.7,255.79 L380.2,255.88 L374.6,255.88 L369.0,255.65 L363.5,255.07 L357.9,254.61 L352.3,254.70 L346.8,255.26 L341.2,255.84 L335.6,256.21 L330.1,257.16 L324.5,257.42 L318.9,257.71 L313.4,257.89 L307.8,257.71 L302.2,257.27 L296.7,257.08 L291.1,256.78 L285.5,256.24 L280.0,255.78 L274.4,255.63 L268.8,256.03 L263.3,256.70 L257.7,257.01 L252.1,257.26 L246.6,258.06 L241.0,258.46 L235.4,257.86 L229.9,256.80 L224.3,256.44 L218.7,256.44 L213.2,256.34 L207.6,256.32 L202.0,255.97 L196.5,255.00 L190.9,254.50 L185.3,255.18 L179.8,256.43 L174.2,256.88 L168.6,256.92 L163.1,257.00 L157.5,256.96 L151.9,256.66 L146.4,256.15 L140.8,255.74 L135.2,255.82 L129.7,256.72 L124.1,257.25 L118.5,257.09 L113.0,256.86 L107.4,256.88 L101.8,256.42 L96.3,255.86 L90.7,255.87 L85.1,256.81 L79.6,257.36 L74.0,258.18 Z" fill="#9a60b4" fill-opacity="0.7"/>
<path d="M74.0,254.79 L79.6,253.96 L85.1,253.39 L90.7,252.42 L96.3,252.41 L101.8,252.98 L107.4,253.46 L113.0,253.44 L118.5,253.68 L124.1,253.85 L129.7,253.30 L135.2,252.39 L140.8,252.30 L146.4,252.72 L151.9,253.25 L157.5,253.55 L163.1,253.58 L168.6,253.50 L174.2,253.46 L179.8,252.99 L185.3,251.72 L190.9,251.03 L196.5,251.53 L202.0,252.53 L207.6,252.89 L213.2,252.91 L218.7,253.01 L224.3,253.02 L229.9,253.39 L235.4,254.48 L241.0,255.09 L246.6,254.68 L252.1,253.86 L257.7,253.59 L263.3,253.27 L268.8,252.59 L274.4,252.18 L280.0,252.33 L285.5,252.81 L291.1,253.36 L296.7,253.67 L302.2,253.86 L307.8,254.31 L313.4,254.49 L318.9,254.30 L324.5,254.01 L330.1,253.75 L335.6,252.78 L341.2,252.41 L346.8,251.81 L352.3,251.24 L357.9,251.15 L363.5,251.61 L369.0,252.21 L374.6,252.44 L380.2,252.43 L385.7,252.35 L391.3,252.52 L396.9,253.51 L402.4,254.00 L408.0,255.40 L413.6,254.37 L419.1,251.71 L424.7,250.71 L430.3,251.90 L435.8,253.71 L441.4,254.47 L447.0,254.41 L452.5,254.27 L458.1,254.12 L463.7,254.02 L469.2,253.89 L474.8,253.77 L480.4,253.75 L485.9,253.67 L491.5,253.47 L497.1,253.28 L502.6,253.23 L508.2,252.90 L513.8,252.20 L519.3,251.76 L524.9,252.14 L530.5,253.48 L536.0,254.90 L541.6,255.42 L547.2,254.74 L552.7,253.60 L558.3,253.12 L563.9,252.96 L569.4,252.82 L575.0,252.75 L580.6,252.43 L586.1,252.08 L591.7,252.12 L597.3,252.85 L602.8,253.73 L608.4,253.99 L614.0,254.43 L619.5,254.87 L625.1,254.72 L630.7,253.91 L636.2,253.04 L641.8,252.78 L647.4,253.05 L652.9,253.53 L658.5,253.93 L664.1,254.04 L669.6,253.95 L675.2,253.82 L680.8,253.36 L686.3,251.71 L691.9,250.72 L697.5,251.35 L703.0,252.77 L708.6,253.58 L714.2,253.39 L719.7,252.93 L725.3,252.69 L730.9,252.93 L736.4,253.44 L742.0,253.76 L747.6,253.70 L753.1,253.48 L758.7,253.29 L764.3,253.29 L769.8,253.11 L775.4,252.96 L781.0,253.37 L786.5,254.18 L792.1,254.83 L797.7,254.90 L803.2,254.70 L808.8,254.50 L814.4,254.27 L819.9,253.13 L825.5,252.05 L831.1,252.05 L836.6,252.57 L842.2,252.74 L847.8,253.17 L853.3,253.41 L858.9,253.62 L864.5,253.97 L870.0,254.29 L875.6,254.53 L881.2,254.92 L886.7,255.25 L892.3,255.20 L897.9,254.03 L903.4,252.35 L909.0,251.45 L914.6,251.70 L920.1,252.43 L925.7,252.79 L931.3,253.55 L936.8,254.86 L942.4,255.68 L948.0,255.46 L953.5,254.61 L959.1,253.89 L964.7,253.62 L970.2,252.81 L975.8,252.15 L981.4,252.30 L986.9,253.09 L992.5,253.85 L998.1,254.15 L1003.6,255.06 L1009.2,255.64 L1014.8,254.61 L1020.3,252.60 L1025.9,251.79 L1031.5,252.01 L1037.0,252.41 L1042.6,252.60 L1059.3,284.11 L1076.0,409.60 L1076.0,409.60 L1059.3,285.41 L1042.6,254.22 L1037.0,254.03 L1031.5,253.64 L1025.9,253.42 L1020.3,254.22 L1014.8,256.21 L1009.2,257.24 L1003.6,256.66 L998.1,255.76 L992.5,255.46 L986.9,254.71 L981.4,253.92 L975.8,253.78 L970.2,254.43 L964.7,255.23 L959.1,255.50 L953.5,256.21 L948.0,257.06 L942.4,257.27 L936.8,256.46 L931.3,255.16 L925.7,254.40 L920.1,254.05 L914.6,253.33 L909.0,253.08 L903.4,253.98 L897.9,255.64 L892.3,256.80 L886.7,256.85 L881.2,256.52 L875.6,256.13 L870.0,255.90 L864.5,255.58 L858.9,255.23 L853.3,255.02 L847.8,254.79 L842.2,254.35 L836.6,254.19 L831.1,253.68 L825.5,253.67 L819.9,254.74 L814.4,255.88 L808.8,256.10 L803.2,256.30 L797.7,256.50 L792.1,256.43 L786.5,255.79 L781.0,254.99 L775.4,254.58 L769.8,254.72 L764.3,254.90 L758.7,254.91 L753.1,255.10 L747.6,255.31 L742.0,255.37 L736.4,255.05 L730.9,254.55 L725.3,254.31 L719.7,254.55 L714.2,255.00 L708.6,255.19 L703.0,254.39 L697.5,252.99 L691.9,252.36 L686.3,253.34 L680.8,254.97 L675.2,255.43 L669.6,255.56 L664.1,255.65 L658.5,255.54 L652.9,255.14 L647.4,254.66 L641.8,254.40 L636.2,254.65 L630.7,255.52 L625.1,256.32 L619.5,256.47 L614.0,256.04 L608.4,255.60 L602.8,255.34 L597.3,254.47 L591.7,253.74 L586.1,253.71 L580.6,254.05 L575.0,254.37 L569.4,254.43 L563.9,254.57 L558.3,254.74 L552.7,255.21 L547.2,256.34 L541.6,257.02 L536.0,256.51 L530.5,255.10 L524.9,253.77 L519.3,253.39 L513.8,253.83 L508.2,254.52 L502.6,254.85 L497.1,254.90 L491.5,255.08 L485.9,255.28 L480.4,255.36 L474.8,255.38 L469.2,255.49 L463.7,255.62 L458.1,255.73 L452.5,255.87 L447.0,256.01 L441.4,256.07 L435.8,255.32 L430.3,253.53 L424.7,252.36 L419.1,253.35 L413.6,255.98 L408.0,256.99 L402.4,255.61 L396.9,255.12 L391.3,254.15 L385.7,253.97 L380.2,254.06 L374.6,254.07 L369.0,253.83 L363.5,253.24 L357.9,252.79 L352.3,252.87 L346.8,253.44 L341.2,254.03 L335.6,254.40 L330.1,255.36 L324.5,255.62 L318.9,255.91 L313.4,256.09 L307.8,255.92 L302.2,255.47 L296.7,255.28 L291.1,254.97 L285.5,254.43 L280.0,253.96 L274.4,253.81 L268.8,254.21 L263.3,254.89 L257.7,255.21 L252.1,255.46 L246.6,256.27 L241.0,256.68 L235.4,256.08 L229.9,255.00 L224.3,254.63 L218.7,254.63 L213.2,254.53 L207.6,254.51 L202.0,254.15 L196.5,253.17 L190.9,252.67 L185.3,253.36 L179.8,254.61 L174.2,255.08 L168.6,255.11 L163.1,255.19 L157.5,255.16 L151.9,254.86 L146.4,254.34 L140.8,253.93 L135.2,254.01 L129.7,254.91 L124.1,255.46 L118.5,255.29 L113.0,255.06 L107.4,255.07 L101.8,254.60 L96.3,254.04 L90.7,254.05 L85.1,255.01 L79.6,255.56 L74.0,256.39 Z" fill="#ea7ccc" fill-opacity="0.7"/>
<path d="M74.0,361.82 L79.6,361.55 L85.1,361.39 L90.7,361.11 L96.3,361.12 L101.8,361.30 L107.4,361.43 L113.0,361.42 L118.5,361.49 L124.1,361.57 L129.7,361.44 L135.2,361.22 L140.8,361.26 L146.4,361.43 L151.9,361.59 L157.5,361.64 L163.1,361.58 L168.6,361.45 L174.2,361.35 L179.8,361.14 L185.3,360.73 L190.9,360.55 L196.5,360.78 L202.0,361.17 L207.6,361.36 L213.2,361.41 L218.7,361.45 L224.3,361.43 L229.9,361.50 L235.4,361.80 L241.0,361.96 L246.6,361.84 L252.1,361.61 L257.7,361.57 L263.3,361.49 L268.8,361.28 L274.4,361.13 L280.0,361.13 L285.5,361.21 L291.1,361.33 L296.7,361.40 L302.2,361.47 L307.8,361.66 L313.4,361.77 L318.9,361.77 L324.5,361.73 L330.1,361.66 L335.6,361.34 L341.2,361.20 L346.8,360.98 L352.3,360.78 L357.9,360.75 L363.5,360.91 L369.0,361.12 L374.6,361.21 L380.2,361.21 L385.7,361.16 L391.3,361.18 L396.9,361.44 L402.4,361.56 L408.0,361.98 L413.6,361.68 L419.1,360.90 L424.7,360.65 L430.3,361.06 L435.8,361.64 L441.4,361.86 L447.0,361.80 L452.5,361.70 L458.1,361.61 L463.7,361.57 L469.2,361.54 L474.8,361.56 L480.4,361.62 L485.9,361.65 L491.5,361.62 L497.1,361.55 L502.6,361.48 L508.2,361.30 L513.8,361.00 L519.3,360.81 L524.9,360.90 L530.5,361.34 L536.0,361.84 L541.6,362.08 L547.2,361.94 L552.7,361.63 L558.3,361.49 L563.9,361.41 L569.4,361.33 L575.0,361.26 L580.6,361.13 L586.1,361.01 L591.7,361.03 L597.3,361.28 L602.8,361.57 L608.4,361.66 L614.0,361.79 L619.5,361.90 L625.1,361.83 L630.7,361.57 L636.2,361.30 L641.8,361.25 L647.4,361.37 L652.9,361.56 L658.5,361.70 L664.1,361.73 L669.6,361.67 L675.2,361.58 L680.8,361.38 L686.3,360.83 L691.9,360.51 L697.5,360.74 L703.0,361.23 L708.6,361.55 L714.2,361.55 L719.7,361.44 L725.3,361.36 L730.9,361.39 L736.4,361.49 L742.0,361.53 L747.6,361.48 L753.1,361.41 L758.7,361.38 L764.3,361.41 L769.8,361.40 L775.4,361.37 L781.0,361.48 L786.5,361.69 L792.1,361.84 L797.7,361.82 L803.2,361.74 L808.8,361.70 L814.4,361.68 L819.9,361.41 L825.5,361.15 L831.1,361.21 L836.6,361.38 L842.2,361.40 L847.8,361.47 L853.3,361.46 L858.9,361.46 L864.5,361.51 L870.0,361.60 L875.6,361.68 L881.2,361.84 L886.7,361.98 L892.3,362.00 L897.9,361.65 L903.4,361.14 L909.0,360.86 L914.6,360.94 L920.1,361.18 L925.7,361.32 L931.3,361.59 L936.8,362.02 L942.4,362.28 L948.0,362.18 L953.5,361.87 L959.1,361.58 L964.7,361.44 L970.2,361.15 L975.8,360.94 L981.4,361.02 L986.9,361.32 L992.5,361.62 L998.1,361.76 L1003.6,362.05 L1009.2,362.21 L1014.8,361.85 L1020.3,361.17 L1025.9,360.88 L1031.5,360.94 L1037.0,361.09 L1042.6,361.20 L1059.3,370.92 L1076.0,409.60" fill="none" stroke="#5470c6" stroke-width="1.6" stroke-linejoin="round"/>
<path d="M74.0,333.31 L79.6,332.90 L85.1,332.65 L90.7,332.22 L96.3,332.26 L101.8,332.57 L107.4,332.82 L113.0,332.81 L118.5,332.92 L124.1,333.01 L129.7,332.76 L135.2,332.34 L140.8,332.35 L146.4,332.59 L151.9,332.87 L157.5,333.00 L163.1,332.97 L168.6,332.86 L174.2,332.76 L179.8,332.45 L185.3,331.77 L190.9,331.41 L196.5,331.68 L202.0,332.21 L207.6,332.44 L213.2,332.51 L218.7,332.62 L224.3,332.67 L229.9,332.88 L235.4,333.44 L241.0,333.76 L246.6,333.57 L252.1,333.16 L257.7,333.00 L263.3,332.80 L268.8,332.39 L274.4,332.11 L280.0,332.11 L285.5,332.29 L291.1,332.55 L296.7,332.73 L302.2,332.89 L307.8,333.20 L313.4,333.37 L318.9,333.35 L324.5,333.24 L330.1,333.10 L335.6,332.57 L341.2,332.32 L346.8,331.97 L352.3,331.65 L357.9,331.60 L363.5,331.86 L369.0,332.20 L374.6,332.37 L380.2,332.40 L385.7,332.36 L391.3,332.42 L396.9,332.85 L402.4,333.03 L408.0,333.67 L413.6,333.14 L419.1,331.83 L424.7,331.37 L430.3,331.99 L435.8,332.93 L441.4,333.34 L447.0,333.33 L452.5,333.27 L458.1,333.19 L463.7,333.13 L469.2,333.07 L474.8,333.01 L480.4,333.01 L485.9,332.97 L491.5,332.86 L497.1,332.74 L502.6,332.68 L508.2,332.47 L513.8,332.10 L519.3,331.87 L524.9,332.07 L530.5,332.77 L536.0,333.51 L541.6,333.81 L547.2,333.50 L552.7,332.94 L558.3,332.69 L563.9,332.58 L569.4,332.49 L575.0,332.44 L580.6,332.28 L586.1,332.14 L591.7,332.19 L597.3,332.58 L602.8,333.02 L608.4,333.13 L614.0,333.31 L619.5,333.47 L625.1,333.34 L630.7,332.91 L636.2,332.48 L641.8,332.39 L647.4,332.59 L652.9,332.89 L658.5,333.15 L664.1,333.23 L669.6,333.18 L675.2,333.06 L680.8,332.76 L686.3,331.88 L691.9,331.34 L697.5,331.63 L703.0,332.35 L708.6,332.79 L714.2,332.77 L719.7,332.61 L725.3,332.55 L730.9,332.69 L736.4,332.93 L742.0,333.07 L747.6,333.00 L753.1,332.85 L758.7,332.72 L764.3,332.68 L769.8,332.56 L775.4,332.46 L781.0,332.64 L786.5,333.02 L792.1,333.35 L797.7,333.41 L803.2,333.36 L808.8,333.34 L814.4,333.30 L819.9,332.81 L825.5,332.33 L831.1,332.33 L836.6,332.55 L842.2,332.56 L847.8,332.69 L853.3,332.71 L858.9,332.76 L864.5,332.90 L870.0,333.07 L875.6,333.22 L881.2,333.47 L886.7,333.67 L892.3,333.67 L897.9,333.10 L903.4,332.26 L909.0,331.80 L914.6,331.92 L920.1,332.29 L925.7,332.50 L931.3,332.93 L936.8,333.63 L942.4,334.06 L948.0,333.95 L953.5,333.50 L959.1,333.08 L964.7,332.87 L970.2,332.40 L975.8,332.02 L981.4,332.07 L986.9,332.48 L992.5,332.89 L998.1,333.09 L1003.6,333.59 L1009.2,333.91 L1014.8,333.42 L1020.3,332.44 L1025.9,332.03 L1031.5,332.14 L1037.0,332.34 L1042.6,332.44 L1059.3,347.89 L1076.0,409.60" fill="none" stroke="#91cc75" stroke-width="1.6" stroke-linejoin="round"/>
<path d="M74.0,305.79 L79.6,305.24 L85.1,304.91 L90.7,304.32 L96.3,304.38 L101.8,304.80 L107.4,305.15 L113.0,305.15 L118.5,305.30 L124.1,305.41 L129.7,305.05 L135.2,304.44 L140.8,304.40 L146.4,304.69 L151.9,305.04 L157.5,305.23 L163.1,305.23 L168.6,305.13 L174.2,305.06 L179.8,304.70 L185.3,303.81 L190.9,303.33 L196.5,303.67 L202.0,304.35 L207.6,304.62 L213.2,304.66 L218.7,304.77 L224.3,304.81 L229.9,305.09 L235.4,305.86 L241.0,306.30 L246.6,306.06 L252.1,305.53 L257.7,305.36 L263.3,305.12 L268.8,304.60 L274.4,304.26 L280.0,304.28 L285.5,304.53 L291.1,304.84 L296.7,305.03 L302.2,305.17 L307.8,305.52 L313.4,305.69 L318.9,305.64 L324.5,305.50 L330.1,305.36 L335.6,304.73 L341.2,304.49 L346.8,304.09 L352.3,303.70 L357.9,303.65 L363.5,303.96 L369.0,304.36 L374.6,304.50 L380.2,304.47 L385.7,304.36 L391.3,304.42 L396.9,305.01 L402.4,305.29 L408.0,306.20 L413.6,305.52 L419.1,303.78 L424.7,303.18 L430.3,304.05 L435.8,305.33 L441.4,305.89 L447.0,305.88 L452.5,305.79 L458.1,305.67 L463.7,305.56 L469.2,305.43 L474.8,305.32 L480.4,305.27 L485.9,305.19 L491.5,305.04 L497.1,304.90 L502.6,304.86 L508.2,304.64 L513.8,304.19 L519.3,303.91 L524.9,304.20 L530.5,305.14 L536.0,306.12 L541.6,306.48 L547.2,306.02 L552.7,305.24 L558.3,304.88 L563.9,304.72 L569.4,304.60 L575.0,304.54 L580.6,304.33 L586.1,304.13 L591.7,304.20 L597.3,304.74 L602.8,305.37 L608.4,305.56 L614.0,305.84 L619.5,306.09 L625.1,305.95 L630.7,305.36 L636.2,304.75 L641.8,304.56 L647.4,304.75 L652.9,305.10 L658.5,305.39 L664.1,305.48 L669.6,305.43 L675.2,305.33 L680.8,305.01 L686.3,303.89 L691.9,303.23 L697.5,303.66 L703.0,304.64 L708.6,305.21 L714.2,305.12 L719.7,304.83 L725.3,304.68 L730.9,304.83 L736.4,305.13 L742.0,305.31 L747.6,305.24 L753.1,305.07 L758.7,304.92 L764.3,304.91 L769.8,304.79 L775.4,304.69 L781.0,304.97 L786.5,305.51 L792.1,305.95 L797.7,306.02 L803.2,305.91 L808.8,305.81 L814.4,305.70 L819.9,304.97 L825.5,304.27 L831.1,304.28 L836.6,304.61 L842.2,304.69 L847.8,304.94 L853.3,305.05 L858.9,305.16 L864.5,305.37 L870.0,305.59 L875.6,305.75 L881.2,306.02 L886.7,306.24 L892.3,306.20 L897.9,305.40 L903.4,304.26 L909.0,303.65 L914.6,303.83 L920.1,304.36 L925.7,304.66 L931.3,305.24 L936.8,306.20 L942.4,306.79 L948.0,306.67 L953.5,306.07 L959.1,305.53 L964.7,305.26 L970.2,304.62 L975.8,304.09 L981.4,304.13 L986.9,304.63 L992.5,305.14 L998.1,305.36 L1003.6,306.02 L1009.2,306.47 L1014.8,305.83 L1020.3,304.55 L1025.9,304.06 L1031.5,304.26 L1037.0,304.56 L1042.6,304.71 L1059.3,325.61 L1076.0,409.60" fill="none" stroke="#fac858" stroke-width="1.6" stroke-linejoin="round"/>
<path d="M74.0,283.82 L79.6,283.17 L85.1,282.76 L90.7,282.03 L96.3,282.07 L101.8,282.56 L107.4,282.97 L113.0,282.96 L118.5,283.13 L124.1,283.26 L129.7,282.80 L135.2,282.04 L140.8,281.97 L146.4,282.31 L151.9,282.73 L157.5,282.97 L163.1,282.99 L168.6,282.90 L174.2,282.85 L179.8,282.46 L185.3,281.41 L190.9,280.85 L196.5,281.26 L202.0,282.08 L207.6,282.38 L213.2,282.41 L218.7,282.50 L224.3,282.52 L229.9,282.83 L235.4,283.74 L241.0,284.25 L246.6,283.94 L252.1,283.30 L257.7,283.09 L263.3,282.83 L268.8,282.25 L274.4,281.89 L280.0,281.97 L285.5,282.32 L291.1,282.72 L296.7,282.96 L302.2,283.10 L307.8,283.48 L313.4,283.64 L318.9,283.52 L324.5,283.30 L330.1,283.10 L335.6,282.33 L341.2,282.04 L346.8,281.57 L352.3,281.12 L357.9,281.08 L363.5,281.47 L369.0,281.97 L374.6,282.17 L380.2,282.16 L385.7,282.06 L391.3,282.16 L396.9,282.91 L402.4,283.26 L408.0,284.35 L413.6,283.49 L419.1,281.33 L424.7,280.53 L430.3,281.53 L435.8,283.04 L441.4,283.69 L447.0,283.67 L452.5,283.58 L458.1,283.48 L463.7,283.41 L469.2,283.31 L474.8,283.23 L480.4,283.21 L485.9,283.14 L491.5,282.96 L497.1,282.79 L502.6,282.72 L508.2,282.42 L513.8,281.82 L519.3,281.44 L524.9,281.73 L530.5,282.82 L536.0,283.98 L541.6,284.41 L547.2,283.86 L552.7,282.94 L558.3,282.56 L563.9,282.44 L569.4,282.35 L575.0,282.32 L580.6,282.10 L586.1,281.85 L591.7,281.92 L597.3,282.53 L602.8,283.25 L608.4,283.44 L614.0,283.76 L619.5,284.05 L625.1,283.87 L630.7,283.15 L636.2,282.40 L641.8,282.17 L647.4,282.39 L652.9,282.81 L658.5,283.17 L664.1,283.31 L669.6,283.27 L675.2,283.20 L680.8,282.85 L686.3,281.54 L691.9,280.75 L697.5,281.28 L703.0,282.43 L708.6,283.09 L714.2,282.93 L719.7,282.53 L725.3,282.31 L730.9,282.46 L736.4,282.83 L742.0,283.05 L747.6,282.97 L753.1,282.78 L758.7,282.62 L764.3,282.64 L769.8,282.52 L775.4,282.43 L781.0,282.80 L786.5,283.48 L792.1,284.04 L797.7,284.11 L803.2,283.97 L808.8,283.82 L814.4,283.64 L819.9,282.71 L825.5,281.82 L831.1,281.80 L836.6,282.19 L842.2,282.29 L847.8,282.61 L853.3,282.77 L858.9,282.92 L864.5,283.21 L870.0,283.48 L875.6,283.70 L881.2,284.04 L886.7,284.33 L892.3,284.30 L897.9,283.35 L903.4,281.98 L909.0,281.24 L914.6,281.45 L920.1,282.05 L925.7,282.36 L931.3,283.01 L936.8,284.10 L942.4,284.78 L948.0,284.61 L953.5,283.90 L959.1,283.29 L964.7,283.02 L970.2,282.32 L975.8,281.75 L981.4,281.84 L986.9,282.47 L992.5,283.10 L998.1,283.35 L1003.6,284.12 L1009.2,284.61 L1014.8,283.80 L1020.3,282.19 L1025.9,281.56 L1031.5,281.76 L1037.0,282.11 L1042.6,282.28 L1059.3,307.76 L1076.0,409.60" fill="none" stroke="#ee6666" stroke-width="1.6" stroke-linejoin="round"/>
<path d="M74.0,262.13 L79.6,261.34 L85.1,260.81 L90.7,259.89 L96.3,259.89 L101.8,260.43 L107.4,260.88 L113.0,260.86 L118.5,261.07 L124.1,261.22 L129.7,260.70 L135.2,259.82 L140.8,259.74 L146.4,260.14 L151.9,260.65 L157.5,260.94 L163.1,260.98 L168.6,260.91 L174.2,260.87 L179.8,260.43 L185.3,259.22 L190.9,258.56 L196.5,259.04 L202.0,259.99 L207.6,260.33 L213.2,260.34 L218.7,260.43 L224.3,260.43 L229.9,260.78 L235.4,261.82 L241.0,262.40 L246.6,262.01 L252.1,261.23 L257.7,260.99 L263.3,260.69 L268.8,260.04 L274.4,259.66 L280.0,259.80 L285.5,260.25 L291.1,260.77 L296.7,261.07 L302.2,261.25 L307.8,261.68 L313.4,261.85 L318.9,261.68 L324.5,261.40 L330.1,261.14 L335.6,260.21 L341.2,259.85 L346.8,259.28 L352.3,258.73 L357.9,258.65 L363.5,259.10 L369.0,259.67 L374.6,259.90 L380.2,259.89 L385.7,259.82 L391.3,259.98 L396.9,260.92 L402.4,261.38 L408.0,262.71 L413.6,261.73 L419.1,259.20 L424.7,258.25 L430.3,259.38 L435.8,261.11 L441.4,261.83 L447.0,261.77 L452.5,261.64 L458.1,261.49 L463.7,261.39 L469.2,261.26 L474.8,261.15 L480.4,261.14 L485.9,261.06 L491.5,260.87 L497.1,260.69 L502.6,260.65 L508.2,260.33 L513.8,259.67 L519.3,259.25 L524.9,259.61 L530.5,260.90 L536.0,262.25 L541.6,262.74 L547.2,262.09 L552.7,260.99 L558.3,260.54 L563.9,260.37 L569.4,260.24 L575.0,260.17 L580.6,259.87 L586.1,259.54 L591.7,259.58 L597.3,260.29 L602.8,261.13 L608.4,261.38 L614.0,261.80 L619.5,262.21 L625.1,262.06 L630.7,261.29 L636.2,260.45 L641.8,260.20 L647.4,260.46 L652.9,260.92 L658.5,261.31 L664.1,261.42 L669.6,261.34 L675.2,261.21 L680.8,260.77 L686.3,259.20 L691.9,258.25 L697.5,258.86 L703.0,260.21 L708.6,260.97 L714.2,260.80 L719.7,260.36 L725.3,260.13 L730.9,260.36 L736.4,260.84 L742.0,261.14 L747.6,261.08 L753.1,260.88 L758.7,260.70 L764.3,260.70 L769.8,260.53 L775.4,260.39 L781.0,260.79 L786.5,261.56 L792.1,262.18 L797.7,262.24 L803.2,262.05 L808.8,261.85 L814.4,261.63 L819.9,260.54 L825.5,259.51 L831.1,259.51 L836.6,260.00 L842.2,260.16 L847.8,260.58 L853.3,260.80 L858.9,261.01 L864.5,261.35 L870.0,261.67 L875.6,261.90 L881.2,262.27 L886.7,262.59 L892.3,262.54 L897.9,261.42 L903.4,259.81 L909.0,258.94 L914.6,259.17 L920.1,259.86 L925.7,260.20 L931.3,260.93 L936.8,262.19 L942.4,262.97 L948.0,262.77 L953.5,261.96 L959.1,261.28 L964.7,261.02 L970.2,260.25 L975.8,259.62 L981.4,259.76 L986.9,260.51 L992.5,261.24 L998.1,261.52 L1003.6,262.40 L1009.2,262.95 L1014.8,261.96 L1020.3,260.04 L1025.9,259.27 L1031.5,259.48 L1037.0,259.86 L1042.6,260.04 L1059.3,290.06 L1076.0,409.60" fill="none" stroke="#73c0de" stroke-width="1.6" stroke-linejoin="round"/>
<path d="M74.0,260.25 L79.6,259.44 L85.1,258.90 L90.7,257.98 L96.3,257.97 L101.8,258.52 L107.4,258.97 L113.0,258.96 L118.5,259.17 L124.1,259.33 L129.7,258.80 L135.2,257.91 L140.8,257.83 L146.4,258.24 L151.9,258.75 L157.5,259.04 L163.1,259.08 L168.6,259.01 L174.2,258.97 L179.8,258.52 L185.3,257.30 L190.9,256.63 L196.5,257.12 L202.0,258.07 L207.6,258.42 L213.2,258.44 L218.7,258.53 L224.3,258.53 L229.9,258.88 L235.4,259.93 L241.0,260.52 L246.6,260.13 L252.1,259.34 L257.7,259.09 L263.3,258.79 L268.8,258.13 L274.4,257.74 L280.0,257.88 L285.5,258.34 L291.1,258.87 L296.7,259.17 L302.2,259.35 L307.8,259.79 L313.4,259.96 L318.9,259.79 L324.5,259.50 L330.1,259.25 L335.6,258.30 L341.2,257.94 L346.8,257.37 L352.3,256.81 L357.9,256.73 L363.5,257.18 L369.0,257.75 L374.6,257.99 L380.2,257.98 L385.7,257.90 L391.3,258.07 L396.9,259.02 L402.4,259.49 L408.0,260.83 L413.6,259.84 L419.1,257.28 L424.7,256.32 L430.3,257.46 L435.8,259.21 L441.4,259.94 L447.0,259.89 L452.5,259.75 L458.1,259.60 L463.7,259.50 L469.2,259.37 L474.8,259.26 L480.4,259.24 L485.9,259.16 L491.5,258.97 L497.1,258.79 L502.6,258.75 L508.2,258.43 L513.8,257.75 L519.3,257.33 L524.9,257.70 L530.5,259.00 L536.0,260.37 L541.6,260.86 L547.2,260.20 L552.7,259.10 L558.3,258.64 L563.9,258.47 L569.4,258.33 L575.0,258.27 L580.6,257.96 L586.1,257.63 L591.7,257.67 L597.3,258.38 L602.8,259.23 L608.4,259.49 L614.0,259.91 L619.5,260.33 L625.1,260.18 L630.7,259.40 L636.2,258.55 L641.8,258.30 L647.4,258.56 L652.9,259.03 L658.5,259.42 L664.1,259.53 L669.6,259.45 L675.2,259.32 L680.8,258.87 L686.3,257.28 L691.9,256.32 L697.5,256.93 L703.0,258.30 L708.6,259.08 L714.2,258.90 L719.7,258.45 L725.3,258.22 L730.9,258.45 L736.4,258.94 L742.0,259.25 L747.6,259.19 L753.1,258.98 L758.7,258.80 L764.3,258.80 L769.8,258.63 L775.4,258.49 L781.0,258.89 L786.5,259.67 L792.1,260.29 L797.7,260.36 L803.2,260.16 L808.8,259.97 L814.4,259.74 L819.9,258.64 L825.5,257.60 L831.1,257.60 L836.6,258.10 L842.2,258.26 L847.8,258.68 L853.3,258.91 L858.9,259.11 L864.5,259.46 L870.0,259.77 L875.6,260.01 L881.2,260.39 L886.7,260.71 L892.3,260.66 L897.9,259.52 L903.4,257.90 L909.0,257.02 L914.6,257.26 L920.1,257.96 L925.7,258.30 L931.3,259.04 L936.8,260.31 L942.4,261.10 L948.0,260.90 L953.5,260.08 L959.1,259.38 L964.7,259.12 L970.2,258.34 L975.8,257.70 L981.4,257.84 L986.9,258.61 L992.5,259.35 L998.1,259.63 L1003.6,260.52 L1009.2,261.08 L1014.8,260.07 L1020.3,258.14 L1025.9,257.36 L1031.5,257.56 L1037.0,257.95 L1042.6,258.13 L1059.3,288.54 L1076.0,409.60" fill="none" stroke="#3ba272" stroke-width="1.6" stroke-linejoin="round"/>
<path d="M74.0,258.18 L79.6,257.36 L85.1,256.81 L90.7,255.87 L96.3,255.86 L101.8,256.42 L107.4,256.88 L113.0,256.86 L118.5,257.09 L124.1,257.25 L129.7,256.72 L135.2,255.82 L140.8,255.74 L146.4,256.15 L151.9,256.66 L157.5,256.96 L163.1,257.00 L168.6,256.92 L174.2,256.88 L179.8,256.43 L185.3,255.18 L190.9,254.50 L196.5,255.00 L202.0,255.97 L207.6,256.32 L213.2,256.34 L218.7,256.44 L224.3,256.44 L229.9,256.80 L235.4,257.86 L241.0,258.46 L246.6,258.06 L252.1,257.26 L257.7,257.01 L263.3,256.70 L268.8,256.03 L274.4,255.63 L280.0,255.78 L285.5,256.24 L291.1,256.78 L296.7,257.08 L302.2,257.27 L307.8,257.71 L313.4,257.89 L318.9,257.71 L324.5,257.42 L330.1,257.16 L335.6,256.21 L341.2,255.84 L346.8,255.26 L352.3,254.70 L357.9,254.61 L363.5,255.07 L369.0,255.65 L374.6,255.88 L380.2,255.88 L385.7,255.79 L391.3,255.97 L396.9,256.93 L402.4,257.41 L408.0,258.77 L413.6,257.77 L419.1,255.17 L424.7,254.19 L430.3,255.35 L435.8,257.13 L441.4,257.87 L447.0,257.81 L452.5,257.67 L458.1,257.52 L463.7,257.42 L469.2,257.29 L474.8,257.18 L480.4,257.16 L485.9,257.08 L491.5,256.89 L497.1,256.70 L502.6,256.65 L508.2,256.33 L513.8,255.65 L519.3,255.21 L524.9,255.59 L530.5,256.91 L536.0,258.29 L541.6,258.80 L547.2,258.13 L552.7,257.01 L558.3,256.54 L563.9,256.38 L569.4,256.24 L575.0,256.18 L580.6,255.87 L586.1,255.52 L591.7,255.56 L597.3,256.28 L602.8,257.14 L608.4,257.40 L614.0,257.83 L619.5,258.26 L625.1,258.11 L630.7,257.32 L636.2,256.46 L641.8,256.20 L647.4,256.47 L652.9,256.94 L658.5,257.34 L664.1,257.45 L669.6,257.36 L675.2,257.23 L680.8,256.78 L686.3,255.17 L691.9,254.19 L697.5,254.82 L703.0,256.20 L708.6,256.99 L714.2,256.81 L719.7,256.36 L725.3,256.13 L730.9,256.36 L736.4,256.85 L742.0,257.17 L747.6,257.11 L753.1,256.90 L758.7,256.71 L764.3,256.71 L769.8,256.53 L775.4,256.39 L781.0,256.80 L786.5,257.59 L792.1,258.22 L797.7,258.29 L803.2,258.09 L808.8,257.89 L814.4,257.67 L819.9,256.55 L825.5,255.49 L831.1,255.49 L836.6,256.00 L842.2,256.16 L847.8,256.59 L853.3,256.82 L858.9,257.03 L864.5,257.38 L870.0,257.70 L875.6,257.93 L881.2,258.31 L886.7,258.64 L892.3,258.59 L897.9,257.44 L903.4,255.80 L909.0,254.91 L914.6,255.15 L920.1,255.86 L925.7,256.21 L931.3,256.95 L936.8,258.25 L942.4,259.05 L948.0,258.84 L953.5,258.00 L959.1,257.30 L964.7,257.03 L970.2,256.24 L975.8,255.60 L981.4,255.74 L986.9,256.52 L992.5,257.26 L998.1,257.55 L1003.6,258.45 L1009.2,259.02 L1014.8,258.00 L1020.3,256.04 L1025.9,255.25 L1031.5,255.46 L1037.0,255.85 L1042.6,256.03 L1059.3,286.86 L1076.0,409.60" fill="none" stroke="#fc8452" stroke-width="1.6" stroke-linejoin="round"/>
<path d="M74.0,256.39 L79.6,255.56 L85.1,255.01 L90.7,254.05 L96.3,254.04 L101.8,254.60 L107.4,255.07 L113.0,255.06 L118.5,255.29 L124.1,255.46 L129.7,254.91 L135.2,254.01 L140.8,253.93 L146.4,254.34 L151.9,254.86 L157.5,255.16 L163.1,255.19 L168.6,255.11 L174.2,255.08 L179.8,254.61 L185.3,253.36 L190.9,252.67 L196.5,253.17 L202.0,254.15 L207.6,254.51 L213.2,254.53 L218.7,254.63 L224.3,254.63 L229.9,255.00 L235.4,256.08 L241.0,256.68 L246.6,256.27 L252.1,255.46 L257.7,255.21 L263.3,254.89 L268.8,254.21 L274.4,253.81 L280.0,253.96 L285.5,254.43 L291.1,254.97 L296.7,255.28 L302.2,255.47 L307.8,255.92 L313.4,256.09 L318.9,255.91 L324.5,255.62 L330.1,255.36 L335.6,254.40 L341.2,254.03 L346.8,253.44 L352.3,252.87 L357.9,252.79 L363.5,253.24 L369.0,253.83 L374.6,254.07 L380.2,254.06 L385.7,253.97 L391.3,254.15 L396.9,255.12 L402.4,255.61 L408.0,256.99 L413.6,255.98 L419.1,253.35 L424.7,252.36 L430.3,253.53 L435.8,255.32 L441.4,256.07 L447.0,256.01 L452.5,255.87 L458.1,255.73 L463.7,255.62 L469.2,255.49 L474.8,255.38 L480.4,255.36 L485.9,255.28 L491.5,255.08 L497.1,254.90 L502.6,254.85 L508.2,254.52 L513.8,253.83 L519.3,253.39 L524.9,253.77 L530.5,255.10 L536.0,256.51 L541.6,257.02 L547.2,256.34 L552.7,255.21 L558.3,254.74 L563.9,254.57 L569.4,254.43 L575.0,254.37 L580.6,254.05 L586.1,253.71 L591.7,253.74 L597.3,254.47 L602.8,255.34 L608.4,255.60 L614.0,256.04 L619.5,256.47 L625.1,256.32 L630.7,255.52 L636.2,254.65 L641.8,254.40 L647.4,254.66 L652.9,255.14 L658.5,255.54 L664.1,255.65 L669.6,255.56 L675.2,255.43 L680.8,254.97 L686.3,253.34 L691.9,252.36 L697.5,252.99 L703.0,254.39 L708.6,255.19 L714.2,255.00 L719.7,254.55 L725.3,254.31 L730.9,254.55 L736.4,255.05 L742.0,255.37 L747.6,255.31 L753.1,255.10 L758.7,254.91 L764.3,254.90 L769.8,254.72 L775.4,254.58 L781.0,254.99 L786.5,255.79 L792.1,256.43 L797.7,256.50 L803.2,256.30 L808.8,256.10 L814.4,255.88 L819.9,254.74 L825.5,253.67 L831.1,253.68 L836.6,254.19 L842.2,254.35 L847.8,254.79 L853.3,255.02 L858.9,255.23 L864.5,255.58 L870.0,255.90 L875.6,256.13 L881.2,256.52 L886.7,256.85 L892.3,256.80 L897.9,255.64 L903.4,253.98 L909.0,253.08 L914.6,253.33 L920.1,254.05 L925.7,254.40 L931.3,255.16 L936.8,256.46 L942.4,257.27 L948.0,257.06 L953.5,256.21 L959.1,255.50 L964.7,255.23 L970.2,254.43 L975.8,253.78 L981.4,253.92 L986.9,254.71 L992.5,255.46 L998.1,255.76 L1003.6,256.66 L1009.2,257.24 L1014.8,256.21 L1020.3,254.22 L1025.9,253.42 L1031.5,253.64 L1037.0,254.03 L1042.6,254.22 L1059.3,285.41 L1076.0,409.60" fill="none" stroke="#9a60b4" stroke-width="1.6" stroke-linejoin="round"/>
<path d="M74.0,254.79 L79.6,253.96 L85.1,253.39 L90.7,252.42 L96.3,252.41 L101.8,252.98 L107.4,253.46 L113.0,253.44 L118.5,253.68 L124.1,253.85 L129.7,253.30 L135.2,252.39 L140.8,252.30 L146.4,252.72 L151.9,253.25 L157.5,253.55 L163.1,253.58 L168.6,253.50 L174.2,253.46 L179.8,252.99 L185.3,251.72 L190.9,251.03 L196.5,251.53 L202.0,252.53 L207.6,252.89 L213.2,252.91 L218.7,253.01 L224.3,253.02 L229.9,253.39 L235.4,254.48 L241.0,255.09 L246.6,254.68 L252.1,253.86 L257.7,253.59 L263.3,253.27 L268.8,252.59 L274.4,252.18 L280.0,252.33 L285.5,252.81 L291.1,253.36 L296.7,253.67 L302.2,253.86 L307.8,254.31 L313.4,254.49 L318.9,254.30 L324.5,254.01 L330.1,253.75 L335.6,252.78 L341.2,252.41 L346.8,251.81 L352.3,251.24 L357.9,251.15 L363.5,251.61 L369.0,252.21 L374.6,252.44 L380.2,252.43 L385.7,252.35 L391.3,252.52 L396.9,253.51 L402.4,254.00 L408.0,255.40 L413.6,254.37 L419.1,251.71 L424.7,250.71 L430.3,251.90 L435.8,253.71 L441.4,254.47 L447.0,254.41 L452.5,254.27 L458.1,254.12 L463.7,254.02 L469.2,253.89 L474.8,253.77 L480.4,253.75 L485.9,253.67 L491.5,253.47 L497.1,253.28 L502.6,253.23 L508.2,252.90 L513.8,252.20 L519.3,251.76 L524.9,252.14 L530.5,253.48 L536.0,254.90 L541.6,255.42 L547.2,254.74 L552.7,253.60 L558.3,253.12 L563.9,252.96 L569.4,252.82 L575.0,252.75 L580.6,252.43 L586.1,252.08 L591.7,252.12 L597.3,252.85 L602.8,253.73 L608.4,253.99 L614.0,254.43 L619.5,254.87 L625.1,254.72 L630.7,253.91 L636.2,253.04 L641.8,252.78 L647.4,253.05 L652.9,253.53 L658.5,253.93 L664.1,254.04 L669.6,253.95 L675.2,253.82 L680.8,253.36 L686.3,251.71 L691.9,250.72 L697.5,251.35 L703.0,252.77 L708.6,253.58 L714.2,253.39 L719.7,252.93 L725.3,252.69 L730.9,252.93 L736.4,253.44 L742.0,253.76 L747.6,253.70 L753.1,253.48 L758.7,253.29 L764.3,253.29 L769.8,253.11 L775.4,252.96 L781.0,253.37 L786.5,254.18 L792.1,254.83 L797.7,254.90 L803.2,254.70 L808.8,254.50 L814.4,254.27 L819.9,253.13 L825.5,252.05 L831.1,252.05 L836.6,252.57 L842.2,252.74 L847.8,253.17 L853.3,253.41 L858.9,253.62 L864.5,253.97 L870.0,254.29 L875.6,254.53 L881.2,254.92 L886.7,255.25 L892.3,255.20 L897.9,254.03 L903.4,252.35 L909.0,251.45 L914.6,251.70 L920.1,252.43 L925.7,252.79 L931.3,253.55 L936.8,254.86 L942.4,255.68 L948.0,255.46 L953.5,254.61 L959.1,253.89 L964.7,253.62 L970.2,252.81 L975.8,252.15 L981.4,252.30 L986.9,253.09 L992.5,253.85 L998.1,254.15 L1003.6,255.06 L1009.2,255.64 L1014.8,254.61 L1020.3,252.60 L1025.9,251.79 L1031.5,252.01 L1037.0,252.41 L1042.6,252.60 L1059.3,284.11 L1076.0,409.60" fill="none" stroke="#ea7ccc" stroke-width="1.6" stroke-linejoin="round"/>
<path d="M69.5,20.6 H79.25 L74.375,25.6 Z" fill="#5f5f5f"/>
<path d="M168.25,20.6 H178.0 L173.125,25.6 Z" fill="#5f5f5f"/>
<path d="M250.75,20.6 H260.5 L255.625,25.6 Z" fill="#5f5f5f"/>
<path d="M335.75,20.6 H345.5 L340.625,25.6 Z" fill="#5f5f5f"/>
<path d="M434.0,20.6 H443.75 L438.875,25.6 Z" fill="#5f5f5f"/>
<path d="M545.75,20.6 H555.5 L550.625,25.6 Z" fill="#5f5f5f"/>
<path d="M646.0,20.6 H656.5 L651.25,25.6 Z" fill="#5f5f5f"/>
<path d="M803.5,20.6 H814.0 L808.75,25.6 Z" fill="#5f5f5f"/>
<path d="M364,10.5 V36" stroke="#dde3e8" stroke-width="1.2"/>
<path d="M675.5,10.5 V36" stroke="#dde3e8" stroke-width="1.2"/>
<path d="M832.5,10.5 V36" stroke="#dde3e8" stroke-width="1.2"/>
<path transform="translate(690.2,10.7) scale(0.96,0.975)" fill="#f8983c" d="M12,17.27L18.18,21L16.54,13.97L22,9.24L14.81,8.62L12,2L9.19,8.62L2,9.24L7.45,13.97L5.82,21L12,17.27Z"/>
<path transform="translate(1044,10.4)" fill="#6c6c6c" stroke="#6c6c6c" stroke-width="0.45" d="M11,18H13V16H11V18M12,2A10,10 0 0,0 2,12A10,10 0 0,0 12,22A10,10 0 0,0 22,12A10,10 0 0,0 12,2M12,20C7.59,20 4,16.41 4,12C4,7.590 7.59,4 12,4C16.41,4 20,7.59 20,12C20,16.41 16.41,20 12,20M12,6A4,4 0 0,0 8,10H10A2,2 0 0,1 12,8A2,2 0 0,1 14,10C14,12 11,11.75 11,15H13C13,12.75 16,12.5 16,10A4,4 0 0,0 12,6Z"/>
<path d="M180.79999999999998,54.7 L193.3,66.89999999999999 M193.3,54.7 L180.79999999999998,66.89999999999999" stroke="#1f1f1f" stroke-width="2" fill="none"/>
<path d="M294.8,54.7 L307.3,66.89999999999999 M307.3,54.7 L294.8,66.89999999999999" stroke="#1f1f1f" stroke-width="2" fill="none"/>
<path d="M440.8,54.7 L453.3,66.89999999999999 M453.3,54.7 L440.8,66.89999999999999" stroke="#1f1f1f" stroke-width="2" fill="none"/>
<path d="M615.3000000000001,54.7 L628.3,66.89999999999999 M628.3,54.7 L615.3000000000001,66.89999999999999" stroke="#1f1f1f" stroke-width="2" fill="none"/>
<path d="M790.3000000000001,54.7 L802.8,66.89999999999999 M802.8,54.7 L790.3000000000001,66.89999999999999" stroke="#1f1f1f" stroke-width="2" fill="none"/>
<path d="M964.3000000000001,54.7 L977.3,66.89999999999999 M977.3,54.7 L964.3000000000001,66.89999999999999" stroke="#1f1f1f" stroke-width="2" fill="none"/>
<path d="M606.1,464.1 V474 M601,469.2 L606.1,474.3 L611.2,469.2" stroke="#6e6e6e" stroke-width="1.5" fill="none"/>
<rect x="40" y="460" width="18" height="18" rx="2" fill="#757575"/><path d="M43.4,469.2 L47,472.8 L55.2,464.6" stroke="#fff" stroke-width="2.1" fill="none"/>
<rect x="40" y="508" width="18" height="18" rx="2" fill="#5a75c8"/><path d="M43.4,517.2 L47,520.8 L55.2,512.6" stroke="#fff" stroke-width="2.1" fill="none"/>
<rect x="40" y="556" width="18" height="18" rx="2" fill="#91cc75"/><path d="M43.4,565.2 L47,568.8 L55.2,560.6" stroke="#fff" stroke-width="2.1" fill="none"/>
<rect x="40" y="604" width="18" height="18" rx="2" fill="#fac858"/><path d="M43.4,613.2 L47,616.8 L55.2,608.6" stroke="#fff" stroke-width="2.1" fill="none"/>
<path d="M1040,512 H1058 M1043,517 H1055 M1047,522 H1051" stroke="#747474" stroke-width="2" fill="none"/>
<path transform="translate(1067.24,499.25) scale(1.48)" fill="#747474" d="M7.41,8.58L12,13.17L16.59,8.58L18,10L12,16L6,10L7.41,8.58Z"/>
<path d="M1040,560 H1058 M1043,565 H1055 M1047,570 H1051" stroke="#747474" stroke-width="2" fill="none"/>
<path transform="translate(1067.24,547.25) scale(1.48)" fill="#747474" d="M7.41,8.58L12,13.17L16.59,8.58L18,10L12,16L6,10L7.41,8.58Z"/>
<path d="M1040,608 H1058 M1043,613 H1055 M1047,618 H1051" stroke="#747474" stroke-width="2" fill="none"/>
<path transform="translate(1067.24,595.25) scale(1.48)" fill="#747474" d="M7.41,8.58L12,13.17L16.59,8.58L18,10L12,16L6,10L7.41,8.58Z"/>
<path d="M523.0,507.1 L526.2,507.8 L529.3,507.8 L532.5,507.3 L535.7,507.5 L538.9,507.4 L542.0,507.7 L545.2,507.8 L548.4,507.1 L551.5,507.0 L554.7,507.8 L557.9,507.4 L561.0,507.8 L564.2,507.0 L567.4,507.4 L570.6,507.7 L573.7,507.2 L576.9,507.9 L580.1,507.9 L583.2,507.0 L586.4,507.0 L589.6,507.5 L592.7,507.9 L595.9,507.4 L599.1,507.2 L602.2,507.4 L605.4,507.0 L608.6,507.2 L611.8,507.4 L614.9,507.5 L618.1,507.2 L618.6,511 L619.6,531 L523,531 Z" fill="url(#sg1)"/><path d="M523,530.5 H619.6" stroke="#dfe6ea" stroke-width="1"/><path d="M618.0,509 L619.2,531" stroke="#5caaf2" stroke-width="1.6" fill="none"/>
<path d="M523.0,556.2 L526.2,556.1 L529.3,555.3 L532.5,555.3 L535.7,556.0 L538.9,555.9 L542.0,555.9 L545.2,555.5 L548.4,555.8 L551.5,555.8 L554.7,555.8 L557.9,555.4 L561.0,555.6 L564.2,555.6 L567.4,555.9 L570.6,556.2 L573.7,556.1 L576.9,555.7 L580.1,555.6 L583.2,555.5 L586.4,555.2 L589.6,555.2 L592.7,555.7 L595.9,555.5 L599.1,555.6 L602.2,556.1 L605.4,555.7 L608.6,555.8 L611.8,555.4 L614.9,555.2 L618.1,555.5 L618.6,559.2 L619.6,579.4 L523,579.4 Z" fill="url(#sg2)"/><path d="M523,578.9 H619.6" stroke="#dfe6ea" stroke-width="1"/><path d="M618.0,557.2 L619.2,579.4" stroke="#5caaf2" stroke-width="1.6" fill="none"/>
<path d="M529.0,600.2 L532.2,600.5 L535.4,600.4 L538.5,600.6 L541.7,600.6 L544.9,600.1 L548.1,600.0 L551.3,600.8 L554.5,600.3 L557.6,600.2 L560.8,601.0 L564.0,600.5 L567.2,600.8 L570.4,600.5 L573.6,600.6 L576.8,600.2 L579.9,600.6 L583.1,600.9 L586.3,600.5 L589.5,600.7 L592.7,600.7 L595.9,600.1 L599.0,600.8 L602.2,600.6 L605.4,600.3 L608.6,600.0 L611.8,600.9 L615.0,600.5 L618.1,600.7 L621.3,600.9 L624.5,600.7 L625,604 L626,627 L529,627 Z" fill="url(#sg3)"/><path d="M529,626.5 H626" stroke="#dfe6ea" stroke-width="1"/><path d="M624.4,602 L625.6,627" stroke="#5caaf2" stroke-width="1.6" fill="none"/>
</svg>
<span style="left:23.15px;top:12.75px;font-size:14px;line-height:21px;font-weight:400;color:#5a5a5a;letter-spacing:1.397px;-webkit-text-stroke:0.3px #5a5a5a;">Name</span>
<span style="left:100.65px;top:12.75px;font-size:14px;line-height:21px;font-weight:400;color:#5a5a5a;letter-spacing:1.375px;-webkit-text-stroke:0.3px #5a5a5a;">Duration</span>
<span style="left:198.90px;top:12.75px;font-size:14px;line-height:21px;font-weight:400;color:#5a5a5a;letter-spacing:1.469px;-webkit-text-stroke:0.3px #5a5a5a;">Status</span>
<span style="left:281.90px;top:12.75px;font-size:14px;line-height:21px;font-weight:400;color:#5a5a5a;letter-spacing:1.097px;-webkit-text-stroke:0.3px #5a5a5a;">Events</span>
<span style="left:383.90px;top:12.75px;font-size:14px;line-height:21px;font-weight:400;color:#5a5a5a;letter-spacing:0.954px;-webkit-text-stroke:0.3px #5a5a5a;">Where</span>
<span style="left:465.40px;top:12.75px;font-size:14px;line-height:21px;font-weight:400;color:#5a5a5a;letter-spacing:1.336px;-webkit-text-stroke:0.3px #5a5a5a;">Aggregate</span>
<span style="left:576.40px;top:12.75px;font-size:14px;line-height:21px;font-weight:400;color:#5a5a5a;letter-spacing:1.101px;-webkit-text-stroke:0.3px #5a5a5a;">Group by</span>
<span style="left:730.90px;top:12.75px;font-size:14px;line-height:21px;font-weight:400;color:#5a5a5a;letter-spacing:1.278px;-webkit-text-stroke:0.3px #5a5a5a;">Favorites</span>
<span style="left:852.40px;top:12.75px;font-size:14px;line-height:21px;font-weight:400;color:#5a5a5a;letter-spacing:1.180px;-webkit-text-stroke:0.3px #5a5a5a;">Reset</span>
<span style="left:23.65px;top:49.65px;font-size:14px;line-height:21px;font-weight:400;color:#212121;letter-spacing:-0.122px;">group by span.group_id</span>
<span style="left:224.90px;top:49.65px;font-size:14px;line-height:21px;font-weight:400;color:#212121;letter-spacing:-0.072px;">span.rate</span>
<span style="left:338.90px;top:49.65px;font-size:14px;line-height:21px;font-weight:400;color:#212121;letter-spacing:-0.037px;">span.error_pct</span>
<span style="left:484.40px;top:49.65px;font-size:14px;line-height:21px;font-weight:400;color:#212121;letter-spacing:0.075px;">p50(span.duration)</span>
<span style="left:659.40px;top:49.65px;font-size:14px;line-height:21px;font-weight:400;color:#212121;letter-spacing:0.045px;">p90(span.duration)</span>
<span style="left:833.90px;top:49.65px;font-size:14px;line-height:21px;font-weight:400;color:#212121;letter-spacing:0.075px;">p99(span.duration)</span>
<span style="left:29.20px;top:116.67px;font-size:20px;line-height:30px;font-weight:400;color:#262626;letter-spacing:0.000px;transform:scaleX(0.9681);transform-origin:0 0;">Groups</span>
<span style="left:121.70px;top:122.65px;font-size:14px;line-height:21px;font-weight:400;color:#212121;letter-spacing:-0.058px;">all</span>
<span style="left:1045.40px;top:122.65px;font-size:14px;line-height:21px;font-weight:700;color:#424242;letter-spacing:1.222px;">38</span>
<span style="left:1066.00px;top:122.65px;font-size:14px;line-height:21px;font-weight:400;color:#424242;letter-spacing:0.378px;">groups</span>
<span style="left:202.80px;top:195.65px;font-size:14px;line-height:21px;font-weight:400;color:#1e7bd7;letter-spacing:1.428px;-webkit-text-stroke:0.25px #1e7bd7;">span.rate</span>
<span style="left:304.90px;top:195.65px;font-size:14px;line-height:21px;font-weight:400;color:#757575;letter-spacing:1.325px;-webkit-text-stroke:0.25px #757575;">span.error_pct</span>
<span style="left:444.90px;top:195.65px;font-size:14px;line-height:21px;font-weight:400;color:#757575;letter-spacing:1.428px;-webkit-text-stroke:0.25px #757575;">p50(span.duration)</span>
<span style="left:619.40px;top:195.65px;font-size:14px;line-height:21px;font-weight:400;color:#757575;letter-spacing:1.428px;-webkit-text-stroke:0.25px #757575;">p90(span.duration)</span>
<span style="left:793.40px;top:195.65px;font-size:14px;line-height:21px;font-weight:400;color:#757575;letter-spacing:1.457px;-webkit-text-stroke:0.25px #757575;">p99(span.duration)</span>
<span style="left:42.40px;top:229.64px;font-size:12px;line-height:18px;font-weight:400;color:#6e7079;letter-spacing:0.371px;">1.8k</span>
<span style="left:42.40px;top:258.14px;font-size:12px;line-height:18px;font-weight:400;color:#6e7079;letter-spacing:0.371px;">1.5k</span>
<span style="left:42.40px;top:286.14px;font-size:12px;line-height:18px;font-weight:400;color:#6e7079;letter-spacing:0.371px;">1.2k</span>
<span style="left:45.40px;top:314.64px;font-size:12px;line-height:18px;font-weight:400;color:#6e7079;letter-spacing:0.384px;">900</span>
<span style="left:45.40px;top:343.14px;font-size:12px;line-height:18px;font-weight:400;color:#6e7079;letter-spacing:0.384px;">600</span>
<span style="left:45.40px;top:371.14px;font-size:12px;line-height:18px;font-weight:400;color:#6e7079;letter-spacing:0.384px;">300</span>
<span style="left:58.90px;top:399.64px;font-size:12px;line-height:18px;font-weight:400;color:#6e7079;letter-spacing:0.000px;">0</span>
<span style="left:192.40px;top:413.64px;font-size:12px;line-height:18px;font-weight:400;color:#6e7079;letter-spacing:-0.058px;">16:10</span>
<span style="left:359.40px;top:413.64px;font-size:12px;line-height:18px;font-weight:400;color:#6e7079;letter-spacing:-0.058px;">16:20</span>
<span style="left:526.40px;top:413.64px;font-size:12px;line-height:18px;font-weight:400;color:#6e7079;letter-spacing:-0.058px;">16:30</span>
<span style="left:693.40px;top:413.64px;font-size:12px;line-height:18px;font-weight:400;color:#6e7079;letter-spacing:-0.058px;">16:40</span>
<span style="left:860.40px;top:413.64px;font-size:12px;line-height:18px;font-weight:400;color:#6e7079;letter-spacing:-0.058px;">16:50</span>
<span style="left:1026.40px;top:413.64px;font-size:12px;line-height:18px;font-weight:700;color:#6e7079;letter-spacing:0.349px;">17:00</span>
<span style="left:76.70px;top:459.64px;font-size:12px;line-height:18px;font-weight:700;color:#757575;letter-spacing:0.000px;transform:scaleX(0.9512);transform-origin:0 0;">Group Name</span>
<span style="left:418.40px;top:459.64px;font-size:12px;line-height:18px;font-weight:700;color:#757575;letter-spacing:0.000px;transform:scaleX(0.9554);transform-origin:0 0;">System</span>
<span style="left:571.40px;top:459.64px;font-size:12px;line-height:18px;font-weight:700;color:#757575;letter-spacing:-0.272px;">Rate</span>
<span style="left:683.00px;top:459.64px;font-size:12px;line-height:18px;font-weight:700;color:#757575;letter-spacing:0.000px;transform:scaleX(0.9168);transform-origin:0 0;">Err</span>
<span style="left:738.40px;top:459.64px;font-size:12px;line-height:18px;font-weight:700;color:#757575;letter-spacing:0.470px;">P50</span>
<span style="left:801.90px;top:459.64px;font-size:12px;line-height:18px;font-weight:700;color:#757575;letter-spacing:0.470px;">P90</span>
<span style="left:864.90px;top:459.64px;font-size:12px;line-height:18px;font-weight:700;color:#757575;letter-spacing:0.470px;">P99</span>
<span style="left:924.90px;top:459.64px;font-size:12px;line-height:18px;font-weight:700;color:#757575;letter-spacing:0.168px;">Time</span>
<span style="left:76.70px;top:506.65px;font-size:14px;line-height:21px;font-weight:400;color:#212121;letter-spacing:0.516px;">get</span>
<span style="left:418.40px;top:506.65px;font-size:14px;line-height:21px;font-weight:400;color:#1976d2;letter-spacing:0.141px;text-decoration:underline;text-decoration-thickness:2px;text-decoration-color:#8ec3f0;text-underline-offset:0px;text-decoration-skip-ink:none;">db:redis</span>
<span style="left:629.40px;top:506.65px;font-size:14px;line-height:21px;font-weight:400;color:#212121;letter-spacing:0.188px;">504.2</span>
<span style="left:690.90px;top:506.65px;font-size:14px;line-height:21px;font-weight:400;color:#212121;letter-spacing:0.000px;transform:scaleX(0.8797);transform-origin:0 0;">0%</span>
<span style="left:744.40px;top:506.65px;font-size:14px;line-height:21px;font-weight:400;color:#212121;letter-spacing:0.923px;">2ms</span>
<span style="left:802.40px;top:506.65px;font-size:14px;line-height:21px;font-weight:400;color:#212121;letter-spacing:0.294px;">5.8ms</span>
<span style="left:865.40px;top:506.65px;font-size:14px;line-height:21px;font-weight:400;color:#212121;letter-spacing:0.294px;">8.9ms</span>
<span style="left:924.90px;top:506.65px;font-size:14px;line-height:21px;font-weight:400;color:#212121;letter-spacing:0.004px;">today at 17:01</span>
<span style="left:76.70px;top:554.65px;font-size:14px;line-height:21px;font-weight:400;color:#212121;letter-spacing:0.221px;">GET /api/v1/users/:user_id</span>
<span style="left:418.40px;top:554.65px;font-size:14px;line-height:21px;font-weight:400;color:#1976d2;letter-spacing:0.287px;text-decoration:underline;text-decoration-thickness:2px;text-decoration-color:#8ec3f0;text-underline-offset:0px;text-decoration-skip-ink:none;">http:auth</span>
<span style="left:629.40px;top:554.65px;font-size:14px;line-height:21px;font-weight:400;color:#212121;letter-spacing:0.188px;">299.9</span>
<span style="left:680.40px;top:554.65px;font-size:14px;line-height:21px;font-weight:400;color:#212121;letter-spacing:-0.226px;">2.99%</span>
<span style="left:734.90px;top:554.65px;font-size:14px;line-height:21px;font-weight:400;color:#212121;letter-spacing:0.276px;">37.8ms</span>
<span style="left:798.40px;top:554.65px;font-size:14px;line-height:21px;font-weight:400;color:#212121;letter-spacing:0.276px;">60.5ms</span>
<span style="left:863.40px;top:554.65px;font-size:14px;line-height:21px;font-weight:400;color:#212121;letter-spacing:0.317px;">125ms</span>
<span style="left:924.90px;top:554.65px;font-size:14px;line-height:21px;font-weight:400;color:#212121;letter-spacing:0.004px;">today at 17:01</span>
<span style="left:76.70px;top:602.65px;font-size:14px;line-height:21px;font-weight:400;color:#212121;letter-spacing:0.000px;transform:scaleX(0.9412);transform-origin:0 0;">SELECT FROM users WHERE id</span>
<span style="left:418.40px;top:602.65px;font-size:14px;line-height:21px;font-weight:400;color:#1976d2;letter-spacing:0.253px;text-decoration:underline;text-decoration-thickness:2px;text-decoration-color:#8ec3f0;text-underline-offset:0px;text-decoration-skip-ink:none;">db:mysql</span>
<span style="left:635.40px;top:602.65px;font-size:14px;line-height:21px;font-weight:400;color:#212121;letter-spacing:-0.280px;">291</span>
<span style="left:690.90px;top:602.65px;font-size:14px;line-height:21px;font-weight:400;color:#212121;letter-spacing:0.000px;transform:scaleX(0.8797);transform-origin:0 0;">0%</span>
<span style="left:734.90px;top:602.65px;font-size:14px;line-height:21px;font-weight:400;color:#212121;letter-spacing:0.276px;">34.4ms</span>
<span style="left:798.40px;top:602.65px;font-size:14px;line-height:21px;font-weight:400;color:#212121;letter-spacing:0.276px;">55.4ms</span>
<span style="left:861.40px;top:602.65px;font-size:14px;line-height:21px;font-weight:400;color:#212121;letter-spacing:0.276px;">74.5ms</span>
<span style="left:924.90px;top:602.65px;font-size:14px;line-height:21px;font-weight:400;color:#212121;letter-spacing:0.004px;">today at 17:01</span>
</body>
</html>
